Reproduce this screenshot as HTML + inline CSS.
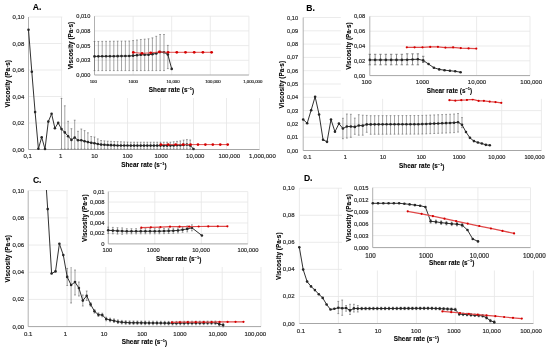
<!DOCTYPE html>
<html><head><meta charset="utf-8"><style>
html,body{margin:0;padding:0;background:#fff;}
body{width:550px;height:349px;overflow:hidden;}
svg{display:block;will-change:transform;font-family:"Liberation Sans", sans-serif;}
</style></head><body>
<svg width="550" height="349" viewBox="0 0 550 349">
<defs><filter id="blr" x="0" y="0" width="100%" height="100%" filterUnits="userSpaceOnUse"><feGaussianBlur stdDeviation="0.3"/></filter></defs>
<g filter="url(#blr)">
<rect width="550" height="349" fill="#fff"/>
<line x1="28.5" y1="123" x2="259.5" y2="123" stroke="#e6e6e6" stroke-width="0.8"/>
<line x1="28.5" y1="96.5" x2="259.5" y2="96.5" stroke="#e6e6e6" stroke-width="0.8"/>
<line x1="28.5" y1="70" x2="259.5" y2="70" stroke="#e6e6e6" stroke-width="0.8"/>
<line x1="28.5" y1="43.5" x2="259.5" y2="43.5" stroke="#e6e6e6" stroke-width="0.8"/>
<line x1="28.5" y1="17" x2="259.5" y2="17" stroke="#e6e6e6" stroke-width="0.8"/>
<line x1="61.5" y1="17" x2="61.5" y2="149.5" stroke="#e6e6e6" stroke-width="0.8"/>
<line x1="94.5" y1="17" x2="94.5" y2="149.5" stroke="#e6e6e6" stroke-width="0.8"/>
<line x1="127.5" y1="17" x2="127.5" y2="149.5" stroke="#e6e6e6" stroke-width="0.8"/>
<line x1="160.5" y1="17" x2="160.5" y2="149.5" stroke="#e6e6e6" stroke-width="0.8"/>
<line x1="193.5" y1="17" x2="193.5" y2="149.5" stroke="#e6e6e6" stroke-width="0.8"/>
<line x1="226.5" y1="17" x2="226.5" y2="149.5" stroke="#e6e6e6" stroke-width="0.8"/>
<line x1="259.5" y1="17" x2="259.5" y2="149.5" stroke="#e6e6e6" stroke-width="0.8"/>
<line x1="28.5" y1="17" x2="28.5" y2="149.5" stroke="#a8a8a8" stroke-width="0.9"/>
<line x1="28.5" y1="149.5" x2="259.5" y2="149.5" stroke="#a6a6a6" stroke-width="1"/>
<text x="24.3" y="149.5" font-size="6" text-anchor="end" font-weight="normal" fill="#2a2a2a" stroke="#2a2a2a" stroke-width="0.18" dominant-baseline="central">0,00</text>
<text x="24.3" y="123" font-size="6" text-anchor="end" font-weight="normal" fill="#2a2a2a" stroke="#2a2a2a" stroke-width="0.18" dominant-baseline="central">0,02</text>
<text x="24.3" y="96.5" font-size="6" text-anchor="end" font-weight="normal" fill="#2a2a2a" stroke="#2a2a2a" stroke-width="0.18" dominant-baseline="central">0,04</text>
<text x="24.3" y="70" font-size="6" text-anchor="end" font-weight="normal" fill="#2a2a2a" stroke="#2a2a2a" stroke-width="0.18" dominant-baseline="central">0,06</text>
<text x="24.3" y="43.5" font-size="6" text-anchor="end" font-weight="normal" fill="#2a2a2a" stroke="#2a2a2a" stroke-width="0.18" dominant-baseline="central">0,08</text>
<text x="24.3" y="17" font-size="6" text-anchor="end" font-weight="normal" fill="#2a2a2a" stroke="#2a2a2a" stroke-width="0.18" dominant-baseline="central">0,10</text>
<text x="27.6" y="155.8" font-size="6" text-anchor="middle" font-weight="normal" fill="#2a2a2a" stroke="#2a2a2a" stroke-width="0.18" dominant-baseline="central">0,1</text>
<text x="60.6" y="155.8" font-size="6" text-anchor="middle" font-weight="normal" fill="#2a2a2a" stroke="#2a2a2a" stroke-width="0.18" dominant-baseline="central">1</text>
<text x="94.6" y="155.8" font-size="6" text-anchor="middle" font-weight="normal" fill="#2a2a2a" stroke="#2a2a2a" stroke-width="0.18" dominant-baseline="central">10</text>
<text x="127.6" y="155.8" font-size="6" text-anchor="middle" font-weight="normal" fill="#2a2a2a" stroke="#2a2a2a" stroke-width="0.18" dominant-baseline="central">100</text>
<text x="161.2" y="155.8" font-size="6" text-anchor="middle" font-weight="normal" fill="#2a2a2a" stroke="#2a2a2a" stroke-width="0.18" dominant-baseline="central">1000</text>
<text x="195.3" y="155.8" font-size="6" text-anchor="middle" font-weight="normal" fill="#2a2a2a" stroke="#2a2a2a" stroke-width="0.18" dominant-baseline="central">10,000</text>
<text x="229.3" y="155.8" font-size="6" text-anchor="middle" font-weight="normal" fill="#2a2a2a" stroke="#2a2a2a" stroke-width="0.18" dominant-baseline="central">100,000</text>
<text x="262.4" y="155.8" font-size="6" text-anchor="middle" font-weight="normal" fill="#2a2a2a" stroke="#2a2a2a" stroke-width="0.18" dominant-baseline="central">1,000,000</text>
<text x="143.9" y="164.5" font-size="6.4" text-anchor="middle" font-weight="bold" fill="#000" stroke="#000" stroke-width="0.08" dominant-baseline="central">Shear rate (s<tspan font-size="3.97" dy="-1.6">&#8722;1</tspan><tspan dy="1.6">)</tspan></text>
<text x="7.8" y="83.8" font-size="6.4" text-anchor="middle" font-weight="bold" fill="#000" stroke="#000" stroke-width="0.08" dominant-baseline="central" transform="rotate(-90 7.8 83.8)">Viscosity (Pa&#183;s)</text>
<line x1="61.5" y1="98.4" x2="61.5" y2="149" stroke="#5a5a5a" stroke-width="0.55"/>
<line x1="60.6" y1="98.4" x2="62.4" y2="98.4" stroke="#5a5a5a" stroke-width="0.55"/>
<line x1="60.6" y1="149" x2="62.4" y2="149" stroke="#5a5a5a" stroke-width="0.55"/>
<line x1="64.8" y1="105.8" x2="64.8" y2="149" stroke="#5a5a5a" stroke-width="0.55"/>
<line x1="63.9" y1="105.8" x2="65.7" y2="105.8" stroke="#5a5a5a" stroke-width="0.55"/>
<line x1="63.9" y1="149" x2="65.7" y2="149" stroke="#5a5a5a" stroke-width="0.55"/>
<line x1="68.1" y1="121.3" x2="68.1" y2="149" stroke="#5a5a5a" stroke-width="0.55"/>
<line x1="67.2" y1="121.3" x2="69" y2="121.3" stroke="#5a5a5a" stroke-width="0.55"/>
<line x1="67.2" y1="149" x2="69" y2="149" stroke="#5a5a5a" stroke-width="0.55"/>
<line x1="71.4" y1="128.7" x2="71.4" y2="149" stroke="#5a5a5a" stroke-width="0.55"/>
<line x1="70.5" y1="128.7" x2="72.3" y2="128.7" stroke="#5a5a5a" stroke-width="0.55"/>
<line x1="70.5" y1="149" x2="72.3" y2="149" stroke="#5a5a5a" stroke-width="0.55"/>
<line x1="74.7" y1="120.2" x2="74.7" y2="149" stroke="#5a5a5a" stroke-width="0.55"/>
<line x1="73.8" y1="120.2" x2="75.6" y2="120.2" stroke="#5a5a5a" stroke-width="0.55"/>
<line x1="73.8" y1="149" x2="75.6" y2="149" stroke="#5a5a5a" stroke-width="0.55"/>
<line x1="78" y1="131.3" x2="78" y2="149" stroke="#5a5a5a" stroke-width="0.55"/>
<line x1="77.1" y1="131.3" x2="78.9" y2="131.3" stroke="#5a5a5a" stroke-width="0.55"/>
<line x1="77.1" y1="149" x2="78.9" y2="149" stroke="#5a5a5a" stroke-width="0.55"/>
<line x1="81.3" y1="129" x2="81.3" y2="149" stroke="#5a5a5a" stroke-width="0.55"/>
<line x1="80.4" y1="129" x2="82.2" y2="129" stroke="#5a5a5a" stroke-width="0.55"/>
<line x1="80.4" y1="149" x2="82.2" y2="149" stroke="#5a5a5a" stroke-width="0.55"/>
<line x1="84.6" y1="130.6" x2="84.6" y2="149" stroke="#5a5a5a" stroke-width="0.55"/>
<line x1="83.7" y1="130.6" x2="85.5" y2="130.6" stroke="#5a5a5a" stroke-width="0.55"/>
<line x1="83.7" y1="149" x2="85.5" y2="149" stroke="#5a5a5a" stroke-width="0.55"/>
<line x1="87.9" y1="132.8" x2="87.9" y2="149" stroke="#5a5a5a" stroke-width="0.55"/>
<line x1="87" y1="132.8" x2="88.8" y2="132.8" stroke="#5a5a5a" stroke-width="0.55"/>
<line x1="87" y1="149" x2="88.8" y2="149" stroke="#5a5a5a" stroke-width="0.55"/>
<line x1="91.2" y1="136.5" x2="91.2" y2="149" stroke="#5a5a5a" stroke-width="0.55"/>
<line x1="90.3" y1="136.5" x2="92.1" y2="136.5" stroke="#5a5a5a" stroke-width="0.55"/>
<line x1="90.3" y1="149" x2="92.1" y2="149" stroke="#5a5a5a" stroke-width="0.55"/>
<line x1="94.5" y1="137" x2="94.5" y2="149" stroke="#5a5a5a" stroke-width="0.55"/>
<line x1="93.6" y1="137" x2="95.4" y2="137" stroke="#5a5a5a" stroke-width="0.55"/>
<line x1="93.6" y1="149" x2="95.4" y2="149" stroke="#5a5a5a" stroke-width="0.55"/>
<line x1="97.8" y1="138.9" x2="97.8" y2="149" stroke="#5a5a5a" stroke-width="0.55"/>
<line x1="96.9" y1="138.9" x2="98.7" y2="138.9" stroke="#5a5a5a" stroke-width="0.55"/>
<line x1="96.9" y1="149" x2="98.7" y2="149" stroke="#5a5a5a" stroke-width="0.55"/>
<line x1="101.1" y1="140.51" x2="101.1" y2="149" stroke="#5a5a5a" stroke-width="0.55"/>
<line x1="100.2" y1="140.51" x2="102" y2="140.51" stroke="#5a5a5a" stroke-width="0.55"/>
<line x1="100.2" y1="149" x2="102" y2="149" stroke="#5a5a5a" stroke-width="0.55"/>
<line x1="104.4" y1="140.86" x2="104.4" y2="149" stroke="#5a5a5a" stroke-width="0.55"/>
<line x1="103.5" y1="140.86" x2="105.3" y2="140.86" stroke="#5a5a5a" stroke-width="0.55"/>
<line x1="103.5" y1="149" x2="105.3" y2="149" stroke="#5a5a5a" stroke-width="0.55"/>
<line x1="107.7" y1="141.2" x2="107.7" y2="149" stroke="#5a5a5a" stroke-width="0.55"/>
<line x1="106.8" y1="141.2" x2="108.6" y2="141.2" stroke="#5a5a5a" stroke-width="0.55"/>
<line x1="106.8" y1="149" x2="108.6" y2="149" stroke="#5a5a5a" stroke-width="0.55"/>
<line x1="111" y1="141.35" x2="111" y2="149" stroke="#5a5a5a" stroke-width="0.55"/>
<line x1="110.1" y1="141.35" x2="111.9" y2="141.35" stroke="#5a5a5a" stroke-width="0.55"/>
<line x1="110.1" y1="149" x2="111.9" y2="149" stroke="#5a5a5a" stroke-width="0.55"/>
<line x1="114.3" y1="141.49" x2="114.3" y2="149" stroke="#5a5a5a" stroke-width="0.55"/>
<line x1="113.4" y1="141.49" x2="115.2" y2="141.49" stroke="#5a5a5a" stroke-width="0.55"/>
<line x1="113.4" y1="149" x2="115.2" y2="149" stroke="#5a5a5a" stroke-width="0.55"/>
<line x1="117.6" y1="141.63" x2="117.6" y2="149" stroke="#5a5a5a" stroke-width="0.55"/>
<line x1="116.7" y1="141.63" x2="118.5" y2="141.63" stroke="#5a5a5a" stroke-width="0.55"/>
<line x1="116.7" y1="149" x2="118.5" y2="149" stroke="#5a5a5a" stroke-width="0.55"/>
<line x1="120.9" y1="141.77" x2="120.9" y2="149" stroke="#5a5a5a" stroke-width="0.55"/>
<line x1="120" y1="141.77" x2="121.8" y2="141.77" stroke="#5a5a5a" stroke-width="0.55"/>
<line x1="120" y1="149" x2="121.8" y2="149" stroke="#5a5a5a" stroke-width="0.55"/>
<line x1="124.2" y1="141.91" x2="124.2" y2="149" stroke="#5a5a5a" stroke-width="0.55"/>
<line x1="123.3" y1="141.91" x2="125.1" y2="141.91" stroke="#5a5a5a" stroke-width="0.55"/>
<line x1="123.3" y1="149" x2="125.1" y2="149" stroke="#5a5a5a" stroke-width="0.55"/>
<line x1="127.5" y1="142.05" x2="127.5" y2="149" stroke="#5a5a5a" stroke-width="0.55"/>
<line x1="126.6" y1="142.05" x2="128.4" y2="142.05" stroke="#5a5a5a" stroke-width="0.55"/>
<line x1="126.6" y1="149" x2="128.4" y2="149" stroke="#5a5a5a" stroke-width="0.55"/>
<line x1="130.8" y1="142.2" x2="130.8" y2="149" stroke="#5a5a5a" stroke-width="0.55"/>
<line x1="129.9" y1="142.2" x2="131.7" y2="142.2" stroke="#5a5a5a" stroke-width="0.55"/>
<line x1="129.9" y1="149" x2="131.7" y2="149" stroke="#5a5a5a" stroke-width="0.55"/>
<line x1="134.1" y1="142.2" x2="134.1" y2="149" stroke="#5a5a5a" stroke-width="0.55"/>
<line x1="133.2" y1="142.2" x2="135" y2="142.2" stroke="#5a5a5a" stroke-width="0.55"/>
<line x1="133.2" y1="149" x2="135" y2="149" stroke="#5a5a5a" stroke-width="0.55"/>
<line x1="137.4" y1="142.2" x2="137.4" y2="149" stroke="#5a5a5a" stroke-width="0.55"/>
<line x1="136.5" y1="142.2" x2="138.3" y2="142.2" stroke="#5a5a5a" stroke-width="0.55"/>
<line x1="136.5" y1="149" x2="138.3" y2="149" stroke="#5a5a5a" stroke-width="0.55"/>
<line x1="140.7" y1="142.2" x2="140.7" y2="149" stroke="#5a5a5a" stroke-width="0.55"/>
<line x1="139.8" y1="142.2" x2="141.6" y2="142.2" stroke="#5a5a5a" stroke-width="0.55"/>
<line x1="139.8" y1="149" x2="141.6" y2="149" stroke="#5a5a5a" stroke-width="0.55"/>
<line x1="144" y1="142.2" x2="144" y2="149" stroke="#5a5a5a" stroke-width="0.55"/>
<line x1="143.1" y1="142.2" x2="144.9" y2="142.2" stroke="#5a5a5a" stroke-width="0.55"/>
<line x1="143.1" y1="149" x2="144.9" y2="149" stroke="#5a5a5a" stroke-width="0.55"/>
<line x1="147.3" y1="142.2" x2="147.3" y2="149" stroke="#5a5a5a" stroke-width="0.55"/>
<line x1="146.4" y1="142.2" x2="148.2" y2="142.2" stroke="#5a5a5a" stroke-width="0.55"/>
<line x1="146.4" y1="149" x2="148.2" y2="149" stroke="#5a5a5a" stroke-width="0.55"/>
<line x1="150.6" y1="142.2" x2="150.6" y2="149" stroke="#5a5a5a" stroke-width="0.55"/>
<line x1="149.7" y1="142.2" x2="151.5" y2="142.2" stroke="#5a5a5a" stroke-width="0.55"/>
<line x1="149.7" y1="149" x2="151.5" y2="149" stroke="#5a5a5a" stroke-width="0.55"/>
<line x1="153.9" y1="142.2" x2="153.9" y2="149" stroke="#5a5a5a" stroke-width="0.55"/>
<line x1="153" y1="142.2" x2="154.8" y2="142.2" stroke="#5a5a5a" stroke-width="0.55"/>
<line x1="153" y1="149" x2="154.8" y2="149" stroke="#5a5a5a" stroke-width="0.55"/>
<line x1="157.2" y1="142.2" x2="157.2" y2="149" stroke="#5a5a5a" stroke-width="0.55"/>
<line x1="156.3" y1="142.2" x2="158.1" y2="142.2" stroke="#5a5a5a" stroke-width="0.55"/>
<line x1="156.3" y1="149" x2="158.1" y2="149" stroke="#5a5a5a" stroke-width="0.55"/>
<line x1="160.5" y1="142.2" x2="160.5" y2="149" stroke="#5a5a5a" stroke-width="0.55"/>
<line x1="159.6" y1="142.2" x2="161.4" y2="142.2" stroke="#5a5a5a" stroke-width="0.55"/>
<line x1="159.6" y1="149" x2="161.4" y2="149" stroke="#5a5a5a" stroke-width="0.55"/>
<line x1="163.8" y1="142.2" x2="163.8" y2="149" stroke="#5a5a5a" stroke-width="0.55"/>
<line x1="162.9" y1="142.2" x2="164.7" y2="142.2" stroke="#5a5a5a" stroke-width="0.55"/>
<line x1="162.9" y1="149" x2="164.7" y2="149" stroke="#5a5a5a" stroke-width="0.55"/>
<line x1="167.1" y1="142.2" x2="167.1" y2="149" stroke="#5a5a5a" stroke-width="0.55"/>
<line x1="166.2" y1="142.2" x2="168" y2="142.2" stroke="#5a5a5a" stroke-width="0.55"/>
<line x1="166.2" y1="149" x2="168" y2="149" stroke="#5a5a5a" stroke-width="0.55"/>
<line x1="170.4" y1="142.15" x2="170.4" y2="149" stroke="#5a5a5a" stroke-width="0.55"/>
<line x1="169.5" y1="142.15" x2="171.3" y2="142.15" stroke="#5a5a5a" stroke-width="0.55"/>
<line x1="169.5" y1="149" x2="171.3" y2="149" stroke="#5a5a5a" stroke-width="0.55"/>
<line x1="173.7" y1="141.76" x2="173.7" y2="149" stroke="#5a5a5a" stroke-width="0.55"/>
<line x1="172.8" y1="141.76" x2="174.6" y2="141.76" stroke="#5a5a5a" stroke-width="0.55"/>
<line x1="172.8" y1="149" x2="174.6" y2="149" stroke="#5a5a5a" stroke-width="0.55"/>
<line x1="177" y1="141.36" x2="177" y2="149" stroke="#5a5a5a" stroke-width="0.55"/>
<line x1="176.1" y1="141.36" x2="177.9" y2="141.36" stroke="#5a5a5a" stroke-width="0.55"/>
<line x1="176.1" y1="149" x2="177.9" y2="149" stroke="#5a5a5a" stroke-width="0.55"/>
<line x1="180.3" y1="140.93" x2="180.3" y2="149" stroke="#5a5a5a" stroke-width="0.55"/>
<line x1="179.4" y1="140.93" x2="181.2" y2="140.93" stroke="#5a5a5a" stroke-width="0.55"/>
<line x1="179.4" y1="149" x2="181.2" y2="149" stroke="#5a5a5a" stroke-width="0.55"/>
<line x1="183.6" y1="140.1" x2="183.6" y2="149" stroke="#5a5a5a" stroke-width="0.55"/>
<line x1="182.7" y1="140.1" x2="184.5" y2="140.1" stroke="#5a5a5a" stroke-width="0.55"/>
<line x1="182.7" y1="149" x2="184.5" y2="149" stroke="#5a5a5a" stroke-width="0.55"/>
<line x1="186.9" y1="139.61" x2="186.9" y2="149" stroke="#5a5a5a" stroke-width="0.55"/>
<line x1="186" y1="139.61" x2="187.8" y2="139.61" stroke="#5a5a5a" stroke-width="0.55"/>
<line x1="186" y1="149" x2="187.8" y2="149" stroke="#5a5a5a" stroke-width="0.55"/>
<line x1="190.2" y1="140" x2="190.2" y2="149" stroke="#5a5a5a" stroke-width="0.55"/>
<line x1="189.3" y1="140" x2="191.1" y2="140" stroke="#5a5a5a" stroke-width="0.55"/>
<line x1="189.3" y1="149" x2="191.1" y2="149" stroke="#5a5a5a" stroke-width="0.55"/>
<path d="M28.5 29.8 L31.8 71.7 L35.1 112.1 L38.4 148.8 L41.7 137.3 L45 149 L48.3 121.6 L51.6 113.8 L54.9 128.2 L58.2 122.9 L61.5 129.1 L64.8 132.4 L68.1 136.2 L71.4 139.9 L74.7 137.5 L78 140.3 L81.3 140.3 L84.6 141.2 L87.9 142.1 L91.2 142.8 L94.5 143.2 L97.8 144 L101.1 144.61 L104.4 144.81 L107.7 145.01 L111 145.17 L114.3 145.34 L117.6 145.5 L120.9 145.53 L124.2 145.55 L127.5 145.57 L130.8 145.6 L134.1 145.6 L137.4 145.6 L140.7 145.6 L144 145.6 L147.3 145.6 L150.6 145.6 L153.9 145.6 L157.2 145.6 L160.5 145.6 L163.8 145.6 L167.1 145.6 L170.4 145.58 L173.7 145.45 L177 145.32 L180.3 145.17 L183.6 144.89 L186.9 144.61 L190.2 145.39 L193.5 149" fill="none" stroke="#262626" stroke-width="0.95" stroke-linejoin="round"/>
<circle cx="28.5" cy="29.8" r="1.3" fill="#262626"/>
<circle cx="31.8" cy="71.7" r="1.3" fill="#262626"/>
<circle cx="35.1" cy="112.1" r="1.3" fill="#262626"/>
<circle cx="38.4" cy="148.8" r="1.3" fill="#262626"/>
<circle cx="41.7" cy="137.3" r="1.3" fill="#262626"/>
<circle cx="45" cy="149" r="1.3" fill="#262626"/>
<circle cx="48.3" cy="121.6" r="1.3" fill="#262626"/>
<circle cx="51.6" cy="113.8" r="1.3" fill="#262626"/>
<circle cx="54.9" cy="128.2" r="1.3" fill="#262626"/>
<circle cx="58.2" cy="122.9" r="1.3" fill="#262626"/>
<circle cx="61.5" cy="129.1" r="1.3" fill="#262626"/>
<circle cx="64.8" cy="132.4" r="1.3" fill="#262626"/>
<circle cx="68.1" cy="136.2" r="1.3" fill="#262626"/>
<circle cx="71.4" cy="139.9" r="1.3" fill="#262626"/>
<circle cx="74.7" cy="137.5" r="1.3" fill="#262626"/>
<circle cx="78" cy="140.3" r="1.3" fill="#262626"/>
<circle cx="81.3" cy="140.3" r="1.3" fill="#262626"/>
<circle cx="84.6" cy="141.2" r="1.3" fill="#262626"/>
<circle cx="87.9" cy="142.1" r="1.3" fill="#262626"/>
<circle cx="91.2" cy="142.8" r="1.3" fill="#262626"/>
<circle cx="94.5" cy="143.2" r="1.3" fill="#262626"/>
<circle cx="97.8" cy="144" r="1.3" fill="#262626"/>
<circle cx="101.1" cy="144.61" r="1.3" fill="#262626"/>
<circle cx="104.4" cy="144.81" r="1.3" fill="#262626"/>
<circle cx="107.7" cy="145.01" r="1.3" fill="#262626"/>
<circle cx="111" cy="145.17" r="1.3" fill="#262626"/>
<circle cx="114.3" cy="145.34" r="1.3" fill="#262626"/>
<circle cx="117.6" cy="145.5" r="1.3" fill="#262626"/>
<circle cx="120.9" cy="145.53" r="1.3" fill="#262626"/>
<circle cx="124.2" cy="145.55" r="1.3" fill="#262626"/>
<circle cx="127.5" cy="145.57" r="1.3" fill="#262626"/>
<circle cx="130.8" cy="145.6" r="1.3" fill="#262626"/>
<circle cx="134.1" cy="145.6" r="1.3" fill="#262626"/>
<circle cx="137.4" cy="145.6" r="1.3" fill="#262626"/>
<circle cx="140.7" cy="145.6" r="1.3" fill="#262626"/>
<circle cx="144" cy="145.6" r="1.3" fill="#262626"/>
<circle cx="147.3" cy="145.6" r="1.3" fill="#262626"/>
<circle cx="150.6" cy="145.6" r="1.3" fill="#262626"/>
<circle cx="153.9" cy="145.6" r="1.3" fill="#262626"/>
<circle cx="157.2" cy="145.6" r="1.3" fill="#262626"/>
<circle cx="160.5" cy="145.6" r="1.3" fill="#262626"/>
<circle cx="163.8" cy="145.6" r="1.3" fill="#262626"/>
<circle cx="167.1" cy="145.6" r="1.3" fill="#262626"/>
<circle cx="170.4" cy="145.58" r="1.3" fill="#262626"/>
<circle cx="173.7" cy="145.45" r="1.3" fill="#262626"/>
<circle cx="177" cy="145.32" r="1.3" fill="#262626"/>
<circle cx="180.3" cy="145.17" r="1.3" fill="#262626"/>
<circle cx="183.6" cy="144.89" r="1.3" fill="#262626"/>
<circle cx="186.9" cy="144.61" r="1.3" fill="#262626"/>
<circle cx="190.2" cy="145.39" r="1.3" fill="#262626"/>
<circle cx="193.5" cy="149" r="1.3" fill="#262626"/>
<path d="M160.8 144.6 L168.23 144.6 L175.67 144.6 L183.1 144.6 L190.53 144.6 L197.97 144.6 L205.4 144.6 L212.83 144.6 L220.27 144.6 L227.7 144.6" fill="none" stroke="#e04848" stroke-width="0.95" stroke-linejoin="round"/>
<circle cx="160.8" cy="144.6" r="1.35" fill="#d40000"/>
<circle cx="168.23" cy="144.6" r="1.35" fill="#d40000"/>
<circle cx="175.67" cy="144.6" r="1.35" fill="#d40000"/>
<circle cx="183.1" cy="144.6" r="1.35" fill="#d40000"/>
<circle cx="190.53" cy="144.6" r="1.35" fill="#d40000"/>
<circle cx="197.97" cy="144.6" r="1.35" fill="#d40000"/>
<circle cx="205.4" cy="144.6" r="1.35" fill="#d40000"/>
<circle cx="212.83" cy="144.6" r="1.35" fill="#d40000"/>
<circle cx="220.27" cy="144.6" r="1.35" fill="#d40000"/>
<circle cx="227.7" cy="144.6" r="1.35" fill="#d40000"/>
<rect x="62.3" y="0" width="213" height="98" fill="#fff"/>
<line x1="94.5" y1="60.3" x2="248.9" y2="60.3" stroke="#e6e6e6" stroke-width="0.8"/>
<line x1="94.5" y1="45.6" x2="248.9" y2="45.6" stroke="#e6e6e6" stroke-width="0.8"/>
<line x1="94.5" y1="30.9" x2="248.9" y2="30.9" stroke="#e6e6e6" stroke-width="0.8"/>
<line x1="94.5" y1="16.2" x2="248.9" y2="16.2" stroke="#e6e6e6" stroke-width="0.8"/>
<line x1="133.1" y1="16.2" x2="133.1" y2="75" stroke="#e6e6e6" stroke-width="0.8"/>
<line x1="171.7" y1="16.2" x2="171.7" y2="75" stroke="#e6e6e6" stroke-width="0.8"/>
<line x1="210.3" y1="16.2" x2="210.3" y2="75" stroke="#e6e6e6" stroke-width="0.8"/>
<line x1="248.9" y1="16.2" x2="248.9" y2="75" stroke="#e6e6e6" stroke-width="0.8"/>
<line x1="94.5" y1="16.2" x2="94.5" y2="75" stroke="#a8a8a8" stroke-width="0.9"/>
<line x1="94.5" y1="75" x2="248.9" y2="75" stroke="#a6a6a6" stroke-width="1"/>
<text x="90.3" y="75" font-size="5.6" text-anchor="end" font-weight="normal" fill="#2a2a2a" stroke="#2a2a2a" stroke-width="0.18" dominant-baseline="central">0,000</text>
<text x="90.3" y="60.3" font-size="5.6" text-anchor="end" font-weight="normal" fill="#2a2a2a" stroke="#2a2a2a" stroke-width="0.18" dominant-baseline="central">0,003</text>
<text x="90.3" y="45.6" font-size="5.6" text-anchor="end" font-weight="normal" fill="#2a2a2a" stroke="#2a2a2a" stroke-width="0.18" dominant-baseline="central">0,005</text>
<text x="90.3" y="30.9" font-size="5.6" text-anchor="end" font-weight="normal" fill="#2a2a2a" stroke="#2a2a2a" stroke-width="0.18" dominant-baseline="central">0,008</text>
<text x="90.3" y="16.2" font-size="5.6" text-anchor="end" font-weight="normal" fill="#2a2a2a" stroke="#2a2a2a" stroke-width="0.18" dominant-baseline="central">0,010</text>
<text x="93.3" y="81.6" font-size="4.3" text-anchor="middle" font-weight="normal" fill="#2a2a2a" stroke="#2a2a2a" stroke-width="0.18" dominant-baseline="central">100</text>
<text x="133.2" y="81.6" font-size="4.3" text-anchor="middle" font-weight="normal" fill="#2a2a2a" stroke="#2a2a2a" stroke-width="0.18" dominant-baseline="central">1000</text>
<text x="173" y="81.6" font-size="4.3" text-anchor="middle" font-weight="normal" fill="#2a2a2a" stroke="#2a2a2a" stroke-width="0.18" dominant-baseline="central">10,000</text>
<text x="213" y="81.6" font-size="4.3" text-anchor="middle" font-weight="normal" fill="#2a2a2a" stroke="#2a2a2a" stroke-width="0.18" dominant-baseline="central">100,000</text>
<text x="252.8" y="81.6" font-size="4.3" text-anchor="middle" font-weight="normal" fill="#2a2a2a" stroke="#2a2a2a" stroke-width="0.18" dominant-baseline="central">1,000,000</text>
<text x="171.5" y="89.7" font-size="6.4" text-anchor="middle" font-weight="bold" fill="#000" stroke="#000" stroke-width="0.08" dominant-baseline="central">Shear rate (s<tspan font-size="3.97" dy="-1.6">&#8722;1</tspan><tspan dy="1.6">)</tspan></text>
<text x="70.7" y="45.6" font-size="6.4" text-anchor="middle" font-weight="bold" fill="#000" stroke="#000" stroke-width="0.08" dominant-baseline="central" transform="rotate(-90 70.7 45.6)">Viscosity (Pa&#183;s)</text>
<line x1="94.5" y1="41.5" x2="94.5" y2="70.6" stroke="#5a5a5a" stroke-width="0.55"/>
<line x1="93.6" y1="41.5" x2="95.4" y2="41.5" stroke="#5a5a5a" stroke-width="0.55"/>
<line x1="93.6" y1="70.6" x2="95.4" y2="70.6" stroke="#5a5a5a" stroke-width="0.55"/>
<line x1="98.36" y1="41.45" x2="98.36" y2="70.6" stroke="#5a5a5a" stroke-width="0.55"/>
<line x1="97.46" y1="41.45" x2="99.26" y2="41.45" stroke="#5a5a5a" stroke-width="0.55"/>
<line x1="97.46" y1="70.6" x2="99.26" y2="70.6" stroke="#5a5a5a" stroke-width="0.55"/>
<line x1="102.22" y1="41.39" x2="102.22" y2="70.6" stroke="#5a5a5a" stroke-width="0.55"/>
<line x1="101.32" y1="41.39" x2="103.12" y2="41.39" stroke="#5a5a5a" stroke-width="0.55"/>
<line x1="101.32" y1="70.6" x2="103.12" y2="70.6" stroke="#5a5a5a" stroke-width="0.55"/>
<line x1="106.08" y1="41.34" x2="106.08" y2="70.6" stroke="#5a5a5a" stroke-width="0.55"/>
<line x1="105.18" y1="41.34" x2="106.98" y2="41.34" stroke="#5a5a5a" stroke-width="0.55"/>
<line x1="105.18" y1="70.6" x2="106.98" y2="70.6" stroke="#5a5a5a" stroke-width="0.55"/>
<line x1="109.94" y1="41.28" x2="109.94" y2="70.6" stroke="#5a5a5a" stroke-width="0.55"/>
<line x1="109.04" y1="41.28" x2="110.84" y2="41.28" stroke="#5a5a5a" stroke-width="0.55"/>
<line x1="109.04" y1="70.6" x2="110.84" y2="70.6" stroke="#5a5a5a" stroke-width="0.55"/>
<line x1="113.8" y1="41.23" x2="113.8" y2="70.6" stroke="#5a5a5a" stroke-width="0.55"/>
<line x1="112.9" y1="41.23" x2="114.7" y2="41.23" stroke="#5a5a5a" stroke-width="0.55"/>
<line x1="112.9" y1="70.6" x2="114.7" y2="70.6" stroke="#5a5a5a" stroke-width="0.55"/>
<line x1="117.66" y1="41.17" x2="117.66" y2="70.6" stroke="#5a5a5a" stroke-width="0.55"/>
<line x1="116.76" y1="41.17" x2="118.56" y2="41.17" stroke="#5a5a5a" stroke-width="0.55"/>
<line x1="116.76" y1="70.6" x2="118.56" y2="70.6" stroke="#5a5a5a" stroke-width="0.55"/>
<line x1="121.52" y1="41.12" x2="121.52" y2="70.6" stroke="#5a5a5a" stroke-width="0.55"/>
<line x1="120.62" y1="41.12" x2="122.42" y2="41.12" stroke="#5a5a5a" stroke-width="0.55"/>
<line x1="120.62" y1="70.6" x2="122.42" y2="70.6" stroke="#5a5a5a" stroke-width="0.55"/>
<line x1="125.38" y1="41.07" x2="125.38" y2="70.6" stroke="#5a5a5a" stroke-width="0.55"/>
<line x1="124.48" y1="41.07" x2="126.28" y2="41.07" stroke="#5a5a5a" stroke-width="0.55"/>
<line x1="124.48" y1="70.6" x2="126.28" y2="70.6" stroke="#5a5a5a" stroke-width="0.55"/>
<line x1="129.24" y1="41.01" x2="129.24" y2="70.6" stroke="#5a5a5a" stroke-width="0.55"/>
<line x1="128.34" y1="41.01" x2="130.14" y2="41.01" stroke="#5a5a5a" stroke-width="0.55"/>
<line x1="128.34" y1="70.6" x2="130.14" y2="70.6" stroke="#5a5a5a" stroke-width="0.55"/>
<line x1="133.1" y1="40.57" x2="133.1" y2="70.6" stroke="#5a5a5a" stroke-width="0.55"/>
<line x1="132.2" y1="40.57" x2="134" y2="40.57" stroke="#5a5a5a" stroke-width="0.55"/>
<line x1="132.2" y1="70.6" x2="134" y2="70.6" stroke="#5a5a5a" stroke-width="0.55"/>
<line x1="136.96" y1="40.02" x2="136.96" y2="70.6" stroke="#5a5a5a" stroke-width="0.55"/>
<line x1="136.06" y1="40.02" x2="137.86" y2="40.02" stroke="#5a5a5a" stroke-width="0.55"/>
<line x1="136.06" y1="70.6" x2="137.86" y2="70.6" stroke="#5a5a5a" stroke-width="0.55"/>
<line x1="140.82" y1="39.49" x2="140.82" y2="70.6" stroke="#5a5a5a" stroke-width="0.55"/>
<line x1="139.92" y1="39.49" x2="141.72" y2="39.49" stroke="#5a5a5a" stroke-width="0.55"/>
<line x1="139.92" y1="70.6" x2="141.72" y2="70.6" stroke="#5a5a5a" stroke-width="0.55"/>
<line x1="144.68" y1="39.15" x2="144.68" y2="70.6" stroke="#5a5a5a" stroke-width="0.55"/>
<line x1="143.78" y1="39.15" x2="145.58" y2="39.15" stroke="#5a5a5a" stroke-width="0.55"/>
<line x1="143.78" y1="70.6" x2="145.58" y2="70.6" stroke="#5a5a5a" stroke-width="0.55"/>
<line x1="148.54" y1="38.81" x2="148.54" y2="70.6" stroke="#5a5a5a" stroke-width="0.55"/>
<line x1="147.64" y1="38.81" x2="149.44" y2="38.81" stroke="#5a5a5a" stroke-width="0.55"/>
<line x1="147.64" y1="70.6" x2="149.44" y2="70.6" stroke="#5a5a5a" stroke-width="0.55"/>
<line x1="152.4" y1="37.87" x2="152.4" y2="70.6" stroke="#5a5a5a" stroke-width="0.55"/>
<line x1="151.5" y1="37.87" x2="153.3" y2="37.87" stroke="#5a5a5a" stroke-width="0.55"/>
<line x1="151.5" y1="70.6" x2="153.3" y2="70.6" stroke="#5a5a5a" stroke-width="0.55"/>
<line x1="156.26" y1="36.32" x2="156.26" y2="70.6" stroke="#5a5a5a" stroke-width="0.55"/>
<line x1="155.36" y1="36.32" x2="157.16" y2="36.32" stroke="#5a5a5a" stroke-width="0.55"/>
<line x1="155.36" y1="70.6" x2="157.16" y2="70.6" stroke="#5a5a5a" stroke-width="0.55"/>
<line x1="160.12" y1="34.5" x2="160.12" y2="70.6" stroke="#5a5a5a" stroke-width="0.55"/>
<line x1="159.22" y1="34.5" x2="161.02" y2="34.5" stroke="#5a5a5a" stroke-width="0.55"/>
<line x1="159.22" y1="70.6" x2="161.02" y2="70.6" stroke="#5a5a5a" stroke-width="0.55"/>
<line x1="163.98" y1="34.5" x2="163.98" y2="70.6" stroke="#5a5a5a" stroke-width="0.55"/>
<line x1="163.08" y1="34.5" x2="164.88" y2="34.5" stroke="#5a5a5a" stroke-width="0.55"/>
<line x1="163.08" y1="70.6" x2="164.88" y2="70.6" stroke="#5a5a5a" stroke-width="0.55"/>
<line x1="167.84" y1="45.4" x2="167.84" y2="68.6" stroke="#5a5a5a" stroke-width="0.55"/>
<line x1="166.94" y1="45.4" x2="168.74" y2="45.4" stroke="#5a5a5a" stroke-width="0.55"/>
<line x1="166.94" y1="68.6" x2="168.74" y2="68.6" stroke="#5a5a5a" stroke-width="0.55"/>
<path d="M94.5 56.4 L98.36 56.36 L102.22 56.31 L106.08 56.27 L109.94 56.23 L113.8 56.18 L117.66 56.14 L121.52 56.1 L125.38 56.05 L129.24 56.01 L133.1 55.65 L136.96 55.22 L140.82 54.8 L144.68 54.8 L148.54 54.8 L152.4 54.15 L156.26 53.41 L160.12 52 L163.98 52.3 L167.84 54.47 L171.7 68.92" fill="none" stroke="#262626" stroke-width="0.95" stroke-linejoin="round"/>
<circle cx="94.5" cy="56.4" r="1.3" fill="#262626"/>
<circle cx="98.36" cy="56.36" r="1.3" fill="#262626"/>
<circle cx="102.22" cy="56.31" r="1.3" fill="#262626"/>
<circle cx="106.08" cy="56.27" r="1.3" fill="#262626"/>
<circle cx="109.94" cy="56.23" r="1.3" fill="#262626"/>
<circle cx="113.8" cy="56.18" r="1.3" fill="#262626"/>
<circle cx="117.66" cy="56.14" r="1.3" fill="#262626"/>
<circle cx="121.52" cy="56.1" r="1.3" fill="#262626"/>
<circle cx="125.38" cy="56.05" r="1.3" fill="#262626"/>
<circle cx="129.24" cy="56.01" r="1.3" fill="#262626"/>
<circle cx="133.1" cy="55.65" r="1.3" fill="#262626"/>
<circle cx="136.96" cy="55.22" r="1.3" fill="#262626"/>
<circle cx="140.82" cy="54.8" r="1.3" fill="#262626"/>
<circle cx="144.68" cy="54.8" r="1.3" fill="#262626"/>
<circle cx="148.54" cy="54.8" r="1.3" fill="#262626"/>
<circle cx="152.4" cy="54.15" r="1.3" fill="#262626"/>
<circle cx="156.26" cy="53.41" r="1.3" fill="#262626"/>
<circle cx="160.12" cy="52" r="1.3" fill="#262626"/>
<circle cx="163.98" cy="52.3" r="1.3" fill="#262626"/>
<circle cx="167.84" cy="54.47" r="1.3" fill="#262626"/>
<circle cx="171.7" cy="68.92" r="1.3" fill="#262626"/>
<path d="M133.3 52.4 L142 53.37 L150.7 52.84 L159.4 51.92 L168.1 52.3 L176.8 52.3 L185.5 52.3 L194.2 52.3 L202.9 52.3 L211.6 52.3" fill="none" stroke="#e04848" stroke-width="0.95" stroke-linejoin="round"/>
<circle cx="133.3" cy="52.4" r="1.4" fill="#d40000"/>
<circle cx="142" cy="53.37" r="1.4" fill="#d40000"/>
<circle cx="150.7" cy="52.84" r="1.4" fill="#d40000"/>
<circle cx="159.4" cy="51.92" r="1.4" fill="#d40000"/>
<circle cx="168.1" cy="52.3" r="1.4" fill="#d40000"/>
<circle cx="176.8" cy="52.3" r="1.4" fill="#d40000"/>
<circle cx="185.5" cy="52.3" r="1.4" fill="#d40000"/>
<circle cx="194.2" cy="52.3" r="1.4" fill="#d40000"/>
<circle cx="202.9" cy="52.3" r="1.4" fill="#d40000"/>
<circle cx="211.6" cy="52.3" r="1.4" fill="#d40000"/>
<text x="37" y="7.4" font-size="8.6" text-anchor="middle" font-weight="bold" fill="#000" stroke="#000" stroke-width="0.08" dominant-baseline="central">A.</text>
<line x1="303.2" y1="137.2" x2="541.4" y2="137.2" stroke="#e6e6e6" stroke-width="0.8"/>
<line x1="303.2" y1="123.9" x2="541.4" y2="123.9" stroke="#e6e6e6" stroke-width="0.8"/>
<line x1="303.2" y1="110.6" x2="541.4" y2="110.6" stroke="#e6e6e6" stroke-width="0.8"/>
<line x1="303.2" y1="97.3" x2="541.4" y2="97.3" stroke="#e6e6e6" stroke-width="0.8"/>
<line x1="303.2" y1="84" x2="541.4" y2="84" stroke="#e6e6e6" stroke-width="0.8"/>
<line x1="303.2" y1="70.7" x2="541.4" y2="70.7" stroke="#e6e6e6" stroke-width="0.8"/>
<line x1="303.2" y1="57.4" x2="541.4" y2="57.4" stroke="#e6e6e6" stroke-width="0.8"/>
<line x1="303.2" y1="44.1" x2="541.4" y2="44.1" stroke="#e6e6e6" stroke-width="0.8"/>
<line x1="303.2" y1="30.8" x2="541.4" y2="30.8" stroke="#e6e6e6" stroke-width="0.8"/>
<line x1="303.2" y1="17.5" x2="541.4" y2="17.5" stroke="#e6e6e6" stroke-width="0.8"/>
<line x1="342.9" y1="17.5" x2="342.9" y2="150.5" stroke="#e6e6e6" stroke-width="0.8"/>
<line x1="382.6" y1="17.5" x2="382.6" y2="150.5" stroke="#e6e6e6" stroke-width="0.8"/>
<line x1="422.3" y1="17.5" x2="422.3" y2="150.5" stroke="#e6e6e6" stroke-width="0.8"/>
<line x1="462" y1="17.5" x2="462" y2="150.5" stroke="#e6e6e6" stroke-width="0.8"/>
<line x1="501.7" y1="17.5" x2="501.7" y2="150.5" stroke="#e6e6e6" stroke-width="0.8"/>
<line x1="541.4" y1="17.5" x2="541.4" y2="150.5" stroke="#e6e6e6" stroke-width="0.8"/>
<line x1="303.2" y1="17.5" x2="303.2" y2="150.5" stroke="#a8a8a8" stroke-width="0.9"/>
<line x1="303.2" y1="150.5" x2="541.4" y2="150.5" stroke="#a6a6a6" stroke-width="1"/>
<text x="298" y="150.5" font-size="5.6" text-anchor="end" font-weight="normal" fill="#2a2a2a" stroke="#2a2a2a" stroke-width="0.18" dominant-baseline="central">0,00</text>
<text x="298" y="137.2" font-size="5.6" text-anchor="end" font-weight="normal" fill="#2a2a2a" stroke="#2a2a2a" stroke-width="0.18" dominant-baseline="central">0,01</text>
<text x="298" y="123.9" font-size="5.6" text-anchor="end" font-weight="normal" fill="#2a2a2a" stroke="#2a2a2a" stroke-width="0.18" dominant-baseline="central">0,02</text>
<text x="298" y="110.6" font-size="5.6" text-anchor="end" font-weight="normal" fill="#2a2a2a" stroke="#2a2a2a" stroke-width="0.18" dominant-baseline="central">0,03</text>
<text x="298" y="97.3" font-size="5.6" text-anchor="end" font-weight="normal" fill="#2a2a2a" stroke="#2a2a2a" stroke-width="0.18" dominant-baseline="central">0,04</text>
<text x="298" y="84" font-size="5.6" text-anchor="end" font-weight="normal" fill="#2a2a2a" stroke="#2a2a2a" stroke-width="0.18" dominant-baseline="central">0,05</text>
<text x="298" y="70.7" font-size="5.6" text-anchor="end" font-weight="normal" fill="#2a2a2a" stroke="#2a2a2a" stroke-width="0.18" dominant-baseline="central">0,06</text>
<text x="298" y="57.4" font-size="5.6" text-anchor="end" font-weight="normal" fill="#2a2a2a" stroke="#2a2a2a" stroke-width="0.18" dominant-baseline="central">0,07</text>
<text x="298" y="44.1" font-size="5.6" text-anchor="end" font-weight="normal" fill="#2a2a2a" stroke="#2a2a2a" stroke-width="0.18" dominant-baseline="central">0,08</text>
<text x="298" y="30.8" font-size="5.6" text-anchor="end" font-weight="normal" fill="#2a2a2a" stroke="#2a2a2a" stroke-width="0.18" dominant-baseline="central">0,09</text>
<text x="298" y="17.5" font-size="5.6" text-anchor="end" font-weight="normal" fill="#2a2a2a" stroke="#2a2a2a" stroke-width="0.18" dominant-baseline="central">0,10</text>
<text x="307.4" y="157.3" font-size="5.6" text-anchor="middle" font-weight="normal" fill="#2a2a2a" stroke="#2a2a2a" stroke-width="0.18" dominant-baseline="central">0.1</text>
<text x="345.3" y="157.3" font-size="5.6" text-anchor="middle" font-weight="normal" fill="#2a2a2a" stroke="#2a2a2a" stroke-width="0.18" dominant-baseline="central">1</text>
<text x="383" y="157.3" font-size="5.6" text-anchor="middle" font-weight="normal" fill="#2a2a2a" stroke="#2a2a2a" stroke-width="0.18" dominant-baseline="central">10</text>
<text x="421.3" y="157.3" font-size="5.6" text-anchor="middle" font-weight="normal" fill="#2a2a2a" stroke="#2a2a2a" stroke-width="0.18" dominant-baseline="central">100</text>
<text x="459.1" y="157.3" font-size="5.6" text-anchor="middle" font-weight="normal" fill="#2a2a2a" stroke="#2a2a2a" stroke-width="0.18" dominant-baseline="central">1000</text>
<text x="496.9" y="157.3" font-size="5.6" text-anchor="middle" font-weight="normal" fill="#2a2a2a" stroke="#2a2a2a" stroke-width="0.18" dominant-baseline="central">10,000</text>
<text x="534.5" y="157.3" font-size="5.6" text-anchor="middle" font-weight="normal" fill="#2a2a2a" stroke="#2a2a2a" stroke-width="0.18" dominant-baseline="central">100,000</text>
<text x="421.8" y="165.6" font-size="6.4" text-anchor="middle" font-weight="bold" fill="#000" stroke="#000" stroke-width="0.08" dominant-baseline="central">Shear rate (s<tspan font-size="3.97" dy="-1.6">&#8722;1</tspan><tspan dy="1.6">)</tspan></text>
<text x="281.9" y="84.7" font-size="6.4" text-anchor="middle" font-weight="bold" fill="#000" stroke="#000" stroke-width="0.08" dominant-baseline="central" transform="rotate(-90 281.9 84.7)">Viscosity (Pa&#183;s)</text>
<line x1="342.9" y1="118.3" x2="342.9" y2="138.7" stroke="#5a5a5a" stroke-width="0.55"/>
<line x1="342" y1="118.3" x2="343.8" y2="118.3" stroke="#5a5a5a" stroke-width="0.55"/>
<line x1="342" y1="138.7" x2="343.8" y2="138.7" stroke="#5a5a5a" stroke-width="0.55"/>
<line x1="346.87" y1="114" x2="346.87" y2="138.1" stroke="#5a5a5a" stroke-width="0.55"/>
<line x1="345.97" y1="114" x2="347.77" y2="114" stroke="#5a5a5a" stroke-width="0.55"/>
<line x1="345.97" y1="138.1" x2="347.77" y2="138.1" stroke="#5a5a5a" stroke-width="0.55"/>
<line x1="350.84" y1="114.3" x2="350.84" y2="137.3" stroke="#5a5a5a" stroke-width="0.55"/>
<line x1="349.94" y1="114.3" x2="351.74" y2="114.3" stroke="#5a5a5a" stroke-width="0.55"/>
<line x1="349.94" y1="137.3" x2="351.74" y2="137.3" stroke="#5a5a5a" stroke-width="0.55"/>
<line x1="354.81" y1="118.1" x2="354.81" y2="134.3" stroke="#5a5a5a" stroke-width="0.55"/>
<line x1="353.91" y1="118.1" x2="355.71" y2="118.1" stroke="#5a5a5a" stroke-width="0.55"/>
<line x1="353.91" y1="134.3" x2="355.71" y2="134.3" stroke="#5a5a5a" stroke-width="0.55"/>
<line x1="358.78" y1="114.7" x2="358.78" y2="135.2" stroke="#5a5a5a" stroke-width="0.55"/>
<line x1="357.88" y1="114.7" x2="359.68" y2="114.7" stroke="#5a5a5a" stroke-width="0.55"/>
<line x1="357.88" y1="135.2" x2="359.68" y2="135.2" stroke="#5a5a5a" stroke-width="0.55"/>
<line x1="362.75" y1="115.2" x2="362.75" y2="135.2" stroke="#5a5a5a" stroke-width="0.55"/>
<line x1="361.85" y1="115.2" x2="363.65" y2="115.2" stroke="#5a5a5a" stroke-width="0.55"/>
<line x1="361.85" y1="135.2" x2="363.65" y2="135.2" stroke="#5a5a5a" stroke-width="0.55"/>
<line x1="366.72" y1="115.4" x2="366.72" y2="132.3" stroke="#5a5a5a" stroke-width="0.55"/>
<line x1="365.82" y1="115.4" x2="367.62" y2="115.4" stroke="#5a5a5a" stroke-width="0.55"/>
<line x1="365.82" y1="132.3" x2="367.62" y2="132.3" stroke="#5a5a5a" stroke-width="0.55"/>
<line x1="370.69" y1="115.68" x2="370.69" y2="134.28" stroke="#5a5a5a" stroke-width="0.55"/>
<line x1="369.79" y1="115.68" x2="371.59" y2="115.68" stroke="#5a5a5a" stroke-width="0.55"/>
<line x1="369.79" y1="134.28" x2="371.59" y2="134.28" stroke="#5a5a5a" stroke-width="0.55"/>
<line x1="374.66" y1="115.67" x2="374.66" y2="134.27" stroke="#5a5a5a" stroke-width="0.55"/>
<line x1="373.76" y1="115.67" x2="375.56" y2="115.67" stroke="#5a5a5a" stroke-width="0.55"/>
<line x1="373.76" y1="134.27" x2="375.56" y2="134.27" stroke="#5a5a5a" stroke-width="0.55"/>
<line x1="378.63" y1="115.65" x2="378.63" y2="134.25" stroke="#5a5a5a" stroke-width="0.55"/>
<line x1="377.73" y1="115.65" x2="379.53" y2="115.65" stroke="#5a5a5a" stroke-width="0.55"/>
<line x1="377.73" y1="134.25" x2="379.53" y2="134.25" stroke="#5a5a5a" stroke-width="0.55"/>
<line x1="382.6" y1="115.64" x2="382.6" y2="134.24" stroke="#5a5a5a" stroke-width="0.55"/>
<line x1="381.7" y1="115.64" x2="383.5" y2="115.64" stroke="#5a5a5a" stroke-width="0.55"/>
<line x1="381.7" y1="134.24" x2="383.5" y2="134.24" stroke="#5a5a5a" stroke-width="0.55"/>
<line x1="386.57" y1="115.62" x2="386.57" y2="134.22" stroke="#5a5a5a" stroke-width="0.55"/>
<line x1="385.67" y1="115.62" x2="387.47" y2="115.62" stroke="#5a5a5a" stroke-width="0.55"/>
<line x1="385.67" y1="134.22" x2="387.47" y2="134.22" stroke="#5a5a5a" stroke-width="0.55"/>
<line x1="390.54" y1="115.61" x2="390.54" y2="134.21" stroke="#5a5a5a" stroke-width="0.55"/>
<line x1="389.64" y1="115.61" x2="391.44" y2="115.61" stroke="#5a5a5a" stroke-width="0.55"/>
<line x1="389.64" y1="134.21" x2="391.44" y2="134.21" stroke="#5a5a5a" stroke-width="0.55"/>
<line x1="394.51" y1="115.6" x2="394.51" y2="134.2" stroke="#5a5a5a" stroke-width="0.55"/>
<line x1="393.61" y1="115.6" x2="395.41" y2="115.6" stroke="#5a5a5a" stroke-width="0.55"/>
<line x1="393.61" y1="134.2" x2="395.41" y2="134.2" stroke="#5a5a5a" stroke-width="0.55"/>
<line x1="398.48" y1="115.58" x2="398.48" y2="134.18" stroke="#5a5a5a" stroke-width="0.55"/>
<line x1="397.58" y1="115.58" x2="399.38" y2="115.58" stroke="#5a5a5a" stroke-width="0.55"/>
<line x1="397.58" y1="134.18" x2="399.38" y2="134.18" stroke="#5a5a5a" stroke-width="0.55"/>
<line x1="402.45" y1="115.57" x2="402.45" y2="134.17" stroke="#5a5a5a" stroke-width="0.55"/>
<line x1="401.55" y1="115.57" x2="403.35" y2="115.57" stroke="#5a5a5a" stroke-width="0.55"/>
<line x1="401.55" y1="134.17" x2="403.35" y2="134.17" stroke="#5a5a5a" stroke-width="0.55"/>
<line x1="406.42" y1="115.55" x2="406.42" y2="134.15" stroke="#5a5a5a" stroke-width="0.55"/>
<line x1="405.52" y1="115.55" x2="407.32" y2="115.55" stroke="#5a5a5a" stroke-width="0.55"/>
<line x1="405.52" y1="134.15" x2="407.32" y2="134.15" stroke="#5a5a5a" stroke-width="0.55"/>
<line x1="410.39" y1="115.54" x2="410.39" y2="134.14" stroke="#5a5a5a" stroke-width="0.55"/>
<line x1="409.49" y1="115.54" x2="411.29" y2="115.54" stroke="#5a5a5a" stroke-width="0.55"/>
<line x1="409.49" y1="134.14" x2="411.29" y2="134.14" stroke="#5a5a5a" stroke-width="0.55"/>
<line x1="414.36" y1="115.52" x2="414.36" y2="134.12" stroke="#5a5a5a" stroke-width="0.55"/>
<line x1="413.46" y1="115.52" x2="415.26" y2="115.52" stroke="#5a5a5a" stroke-width="0.55"/>
<line x1="413.46" y1="134.12" x2="415.26" y2="134.12" stroke="#5a5a5a" stroke-width="0.55"/>
<line x1="418.33" y1="115.51" x2="418.33" y2="134.11" stroke="#5a5a5a" stroke-width="0.55"/>
<line x1="417.43" y1="115.51" x2="419.23" y2="115.51" stroke="#5a5a5a" stroke-width="0.55"/>
<line x1="417.43" y1="134.11" x2="419.23" y2="134.11" stroke="#5a5a5a" stroke-width="0.55"/>
<line x1="422.3" y1="115.4" x2="422.3" y2="134" stroke="#5a5a5a" stroke-width="0.55"/>
<line x1="421.4" y1="115.4" x2="423.2" y2="115.4" stroke="#5a5a5a" stroke-width="0.55"/>
<line x1="421.4" y1="134" x2="423.2" y2="134" stroke="#5a5a5a" stroke-width="0.55"/>
<line x1="426.27" y1="115.24" x2="426.27" y2="133.84" stroke="#5a5a5a" stroke-width="0.55"/>
<line x1="425.37" y1="115.24" x2="427.17" y2="115.24" stroke="#5a5a5a" stroke-width="0.55"/>
<line x1="425.37" y1="133.84" x2="427.17" y2="133.84" stroke="#5a5a5a" stroke-width="0.55"/>
<line x1="430.24" y1="115.07" x2="430.24" y2="133.67" stroke="#5a5a5a" stroke-width="0.55"/>
<line x1="429.34" y1="115.07" x2="431.14" y2="115.07" stroke="#5a5a5a" stroke-width="0.55"/>
<line x1="429.34" y1="133.67" x2="431.14" y2="133.67" stroke="#5a5a5a" stroke-width="0.55"/>
<line x1="434.21" y1="114.91" x2="434.21" y2="133.51" stroke="#5a5a5a" stroke-width="0.55"/>
<line x1="433.31" y1="114.91" x2="435.11" y2="114.91" stroke="#5a5a5a" stroke-width="0.55"/>
<line x1="433.31" y1="133.51" x2="435.11" y2="133.51" stroke="#5a5a5a" stroke-width="0.55"/>
<line x1="438.18" y1="114.74" x2="438.18" y2="133.34" stroke="#5a5a5a" stroke-width="0.55"/>
<line x1="437.28" y1="114.74" x2="439.08" y2="114.74" stroke="#5a5a5a" stroke-width="0.55"/>
<line x1="437.28" y1="133.34" x2="439.08" y2="133.34" stroke="#5a5a5a" stroke-width="0.55"/>
<line x1="442.15" y1="114.57" x2="442.15" y2="133.17" stroke="#5a5a5a" stroke-width="0.55"/>
<line x1="441.25" y1="114.57" x2="443.05" y2="114.57" stroke="#5a5a5a" stroke-width="0.55"/>
<line x1="441.25" y1="133.17" x2="443.05" y2="133.17" stroke="#5a5a5a" stroke-width="0.55"/>
<line x1="446.12" y1="114.41" x2="446.12" y2="133.01" stroke="#5a5a5a" stroke-width="0.55"/>
<line x1="445.22" y1="114.41" x2="447.02" y2="114.41" stroke="#5a5a5a" stroke-width="0.55"/>
<line x1="445.22" y1="133.01" x2="447.02" y2="133.01" stroke="#5a5a5a" stroke-width="0.55"/>
<line x1="450.09" y1="114.24" x2="450.09" y2="132.84" stroke="#5a5a5a" stroke-width="0.55"/>
<line x1="449.19" y1="114.24" x2="450.99" y2="114.24" stroke="#5a5a5a" stroke-width="0.55"/>
<line x1="449.19" y1="132.84" x2="450.99" y2="132.84" stroke="#5a5a5a" stroke-width="0.55"/>
<line x1="454.06" y1="114.01" x2="454.06" y2="132.61" stroke="#5a5a5a" stroke-width="0.55"/>
<line x1="453.16" y1="114.01" x2="454.96" y2="114.01" stroke="#5a5a5a" stroke-width="0.55"/>
<line x1="453.16" y1="132.61" x2="454.96" y2="132.61" stroke="#5a5a5a" stroke-width="0.55"/>
<line x1="458.03" y1="113.49" x2="458.03" y2="132.09" stroke="#5a5a5a" stroke-width="0.55"/>
<line x1="457.13" y1="113.49" x2="458.93" y2="113.49" stroke="#5a5a5a" stroke-width="0.55"/>
<line x1="457.13" y1="132.09" x2="458.93" y2="132.09" stroke="#5a5a5a" stroke-width="0.55"/>
<line x1="462" y1="117.6" x2="462" y2="127.6" stroke="#5a5a5a" stroke-width="0.55"/>
<line x1="461.1" y1="117.6" x2="462.9" y2="117.6" stroke="#5a5a5a" stroke-width="0.55"/>
<line x1="461.1" y1="127.6" x2="462.9" y2="127.6" stroke="#5a5a5a" stroke-width="0.55"/>
<path d="M303.2 119.46 L307.17 123.3 L311.14 110.2 L315.11 96.72 L319.08 114.48 L323.05 139.71 L327.02 141.84 L330.99 119.51 L334.96 131.81 L338.93 123.62 L342.9 128.53 L346.87 126.5 L350.84 126.54 L354.81 126.88 L358.78 125.52 L362.75 125.65 L366.72 124.4 L370.69 124.38 L374.66 124.37 L378.63 124.35 L382.6 124.34 L386.57 124.32 L390.54 124.31 L394.51 124.3 L398.48 124.28 L402.45 124.27 L406.42 124.25 L410.39 124.24 L414.36 124.22 L418.33 124.21 L422.3 124.1 L426.27 123.94 L430.24 123.77 L434.21 123.61 L438.18 123.44 L442.15 123.27 L446.12 123.11 L450.09 122.94 L454.06 122.71 L458.03 122.19 L462 124.73 L465.97 132.02 L469.94 137.85 L473.91 141.11 L477.88 142.54 L481.85 143.46 L485.82 144.84 L489.79 145.3" fill="none" stroke="#262626" stroke-width="0.95" stroke-linejoin="round"/>
<circle cx="303.2" cy="119.46" r="1.3" fill="#262626"/>
<circle cx="307.17" cy="123.3" r="1.3" fill="#262626"/>
<circle cx="311.14" cy="110.2" r="1.3" fill="#262626"/>
<circle cx="315.11" cy="96.72" r="1.3" fill="#262626"/>
<circle cx="319.08" cy="114.48" r="1.3" fill="#262626"/>
<circle cx="323.05" cy="139.71" r="1.3" fill="#262626"/>
<circle cx="327.02" cy="141.84" r="1.3" fill="#262626"/>
<circle cx="330.99" cy="119.51" r="1.3" fill="#262626"/>
<circle cx="334.96" cy="131.81" r="1.3" fill="#262626"/>
<circle cx="338.93" cy="123.62" r="1.3" fill="#262626"/>
<circle cx="342.9" cy="128.53" r="1.3" fill="#262626"/>
<circle cx="346.87" cy="126.5" r="1.3" fill="#262626"/>
<circle cx="350.84" cy="126.54" r="1.3" fill="#262626"/>
<circle cx="354.81" cy="126.88" r="1.3" fill="#262626"/>
<circle cx="358.78" cy="125.52" r="1.3" fill="#262626"/>
<circle cx="362.75" cy="125.65" r="1.3" fill="#262626"/>
<circle cx="366.72" cy="124.4" r="1.3" fill="#262626"/>
<circle cx="370.69" cy="124.38" r="1.3" fill="#262626"/>
<circle cx="374.66" cy="124.37" r="1.3" fill="#262626"/>
<circle cx="378.63" cy="124.35" r="1.3" fill="#262626"/>
<circle cx="382.6" cy="124.34" r="1.3" fill="#262626"/>
<circle cx="386.57" cy="124.32" r="1.3" fill="#262626"/>
<circle cx="390.54" cy="124.31" r="1.3" fill="#262626"/>
<circle cx="394.51" cy="124.3" r="1.3" fill="#262626"/>
<circle cx="398.48" cy="124.28" r="1.3" fill="#262626"/>
<circle cx="402.45" cy="124.27" r="1.3" fill="#262626"/>
<circle cx="406.42" cy="124.25" r="1.3" fill="#262626"/>
<circle cx="410.39" cy="124.24" r="1.3" fill="#262626"/>
<circle cx="414.36" cy="124.22" r="1.3" fill="#262626"/>
<circle cx="418.33" cy="124.21" r="1.3" fill="#262626"/>
<circle cx="422.3" cy="124.1" r="1.3" fill="#262626"/>
<circle cx="426.27" cy="123.94" r="1.3" fill="#262626"/>
<circle cx="430.24" cy="123.77" r="1.3" fill="#262626"/>
<circle cx="434.21" cy="123.61" r="1.3" fill="#262626"/>
<circle cx="438.18" cy="123.44" r="1.3" fill="#262626"/>
<circle cx="442.15" cy="123.27" r="1.3" fill="#262626"/>
<circle cx="446.12" cy="123.11" r="1.3" fill="#262626"/>
<circle cx="450.09" cy="122.94" r="1.3" fill="#262626"/>
<circle cx="454.06" cy="122.71" r="1.3" fill="#262626"/>
<circle cx="458.03" cy="122.19" r="1.3" fill="#262626"/>
<circle cx="462" cy="124.73" r="1.3" fill="#262626"/>
<circle cx="465.97" cy="132.02" r="1.3" fill="#262626"/>
<circle cx="469.94" cy="137.85" r="1.3" fill="#262626"/>
<circle cx="473.91" cy="141.11" r="1.3" fill="#262626"/>
<circle cx="477.88" cy="142.54" r="1.3" fill="#262626"/>
<circle cx="481.85" cy="143.46" r="1.3" fill="#262626"/>
<circle cx="485.82" cy="144.84" r="1.3" fill="#262626"/>
<circle cx="489.79" cy="145.3" r="1.3" fill="#262626"/>
<path d="M449.4 100.2 L455.3 100.6 L461.3 100.2 L466.9 99.9 L472.7 99.3 L478.6 100.8 L483.9 100.8 L489.7 101.6 L495.5 102.1 L501.3 102.8" fill="none" stroke="#e04848" stroke-width="1.25" stroke-linejoin="round"/>
<circle cx="449.4" cy="100.2" r="1.1" fill="#d40000"/>
<circle cx="455.3" cy="100.6" r="1.1" fill="#d40000"/>
<circle cx="461.3" cy="100.2" r="1.1" fill="#d40000"/>
<circle cx="466.9" cy="99.9" r="1.1" fill="#d40000"/>
<circle cx="472.7" cy="99.3" r="1.1" fill="#d40000"/>
<circle cx="478.6" cy="100.8" r="1.1" fill="#d40000"/>
<circle cx="483.9" cy="100.8" r="1.1" fill="#d40000"/>
<circle cx="489.7" cy="101.6" r="1.1" fill="#d40000"/>
<circle cx="495.5" cy="102.1" r="1.1" fill="#d40000"/>
<circle cx="501.3" cy="102.8" r="1.1" fill="#d40000"/>
<rect x="340.8" y="0" width="209.2" height="98.8" fill="#fff"/>
<line x1="369.8" y1="60.8" x2="530" y2="60.8" stroke="#e6e6e6" stroke-width="0.8"/>
<line x1="369.8" y1="46" x2="530" y2="46" stroke="#e6e6e6" stroke-width="0.8"/>
<line x1="369.8" y1="31.2" x2="530" y2="31.2" stroke="#e6e6e6" stroke-width="0.8"/>
<line x1="369.8" y1="16.4" x2="530" y2="16.4" stroke="#e6e6e6" stroke-width="0.8"/>
<line x1="423.2" y1="16.4" x2="423.2" y2="75.6" stroke="#e6e6e6" stroke-width="0.8"/>
<line x1="476.6" y1="16.4" x2="476.6" y2="75.6" stroke="#e6e6e6" stroke-width="0.8"/>
<line x1="530" y1="16.4" x2="530" y2="75.6" stroke="#e6e6e6" stroke-width="0.8"/>
<line x1="369.8" y1="16.4" x2="369.8" y2="75.6" stroke="#a8a8a8" stroke-width="0.9"/>
<line x1="369.8" y1="75.6" x2="530" y2="75.6" stroke="#a6a6a6" stroke-width="1"/>
<text x="365.2" y="75.6" font-size="5.8" text-anchor="end" font-weight="normal" fill="#2a2a2a" stroke="#2a2a2a" stroke-width="0.18" dominant-baseline="central">0,00</text>
<text x="365.2" y="60.8" font-size="5.8" text-anchor="end" font-weight="normal" fill="#2a2a2a" stroke="#2a2a2a" stroke-width="0.18" dominant-baseline="central">0,02</text>
<text x="365.2" y="46" font-size="5.8" text-anchor="end" font-weight="normal" fill="#2a2a2a" stroke="#2a2a2a" stroke-width="0.18" dominant-baseline="central">0,04</text>
<text x="365.2" y="31.2" font-size="5.8" text-anchor="end" font-weight="normal" fill="#2a2a2a" stroke="#2a2a2a" stroke-width="0.18" dominant-baseline="central">0,06</text>
<text x="365.2" y="16.4" font-size="5.8" text-anchor="end" font-weight="normal" fill="#2a2a2a" stroke="#2a2a2a" stroke-width="0.18" dominant-baseline="central">0,08</text>
<text x="366.5" y="81.8" font-size="6" text-anchor="middle" font-weight="normal" fill="#2a2a2a" stroke="#2a2a2a" stroke-width="0.18" dominant-baseline="central">100</text>
<text x="422.5" y="81.8" font-size="6" text-anchor="middle" font-weight="normal" fill="#2a2a2a" stroke="#2a2a2a" stroke-width="0.18" dominant-baseline="central">1000</text>
<text x="477" y="81.8" font-size="6" text-anchor="middle" font-weight="normal" fill="#2a2a2a" stroke="#2a2a2a" stroke-width="0.18" dominant-baseline="central">10,000</text>
<text x="531.2" y="81.8" font-size="6" text-anchor="middle" font-weight="normal" fill="#2a2a2a" stroke="#2a2a2a" stroke-width="0.18" dominant-baseline="central">100,000</text>
<text x="449.5" y="90" font-size="6.4" text-anchor="middle" font-weight="bold" fill="#000" stroke="#000" stroke-width="0.08" dominant-baseline="central">Shear rate (s<tspan font-size="3.97" dy="-1.6">&#8722;1</tspan><tspan dy="1.6">)</tspan></text>
<text x="348.9" y="46.1" font-size="6.4" text-anchor="middle" font-weight="bold" fill="#000" stroke="#000" stroke-width="0.08" dominant-baseline="central" transform="rotate(-90 348.9 46.1)">Viscosity (Pa&#183;s)</text>
<line x1="369.8" y1="54.3" x2="369.8" y2="64.8" stroke="#5a5a5a" stroke-width="0.7"/>
<line x1="368.6" y1="54.3" x2="371" y2="54.3" stroke="#5a5a5a" stroke-width="0.7"/>
<line x1="368.6" y1="64.8" x2="371" y2="64.8" stroke="#5a5a5a" stroke-width="0.7"/>
<line x1="375.14" y1="54.3" x2="375.14" y2="64.8" stroke="#5a5a5a" stroke-width="0.7"/>
<line x1="373.94" y1="54.3" x2="376.34" y2="54.3" stroke="#5a5a5a" stroke-width="0.7"/>
<line x1="373.94" y1="64.8" x2="376.34" y2="64.8" stroke="#5a5a5a" stroke-width="0.7"/>
<line x1="380.48" y1="54.3" x2="380.48" y2="64.8" stroke="#5a5a5a" stroke-width="0.7"/>
<line x1="379.28" y1="54.3" x2="381.68" y2="54.3" stroke="#5a5a5a" stroke-width="0.7"/>
<line x1="379.28" y1="64.8" x2="381.68" y2="64.8" stroke="#5a5a5a" stroke-width="0.7"/>
<line x1="385.82" y1="54.3" x2="385.82" y2="64.8" stroke="#5a5a5a" stroke-width="0.7"/>
<line x1="384.62" y1="54.3" x2="387.02" y2="54.3" stroke="#5a5a5a" stroke-width="0.7"/>
<line x1="384.62" y1="64.8" x2="387.02" y2="64.8" stroke="#5a5a5a" stroke-width="0.7"/>
<line x1="391.16" y1="54.3" x2="391.16" y2="64.8" stroke="#5a5a5a" stroke-width="0.7"/>
<line x1="389.96" y1="54.3" x2="392.36" y2="54.3" stroke="#5a5a5a" stroke-width="0.7"/>
<line x1="389.96" y1="64.8" x2="392.36" y2="64.8" stroke="#5a5a5a" stroke-width="0.7"/>
<line x1="396.5" y1="54.3" x2="396.5" y2="64.8" stroke="#5a5a5a" stroke-width="0.7"/>
<line x1="395.3" y1="54.3" x2="397.7" y2="54.3" stroke="#5a5a5a" stroke-width="0.7"/>
<line x1="395.3" y1="64.8" x2="397.7" y2="64.8" stroke="#5a5a5a" stroke-width="0.7"/>
<line x1="401.84" y1="54.3" x2="401.84" y2="64.8" stroke="#5a5a5a" stroke-width="0.7"/>
<line x1="400.64" y1="54.3" x2="403.04" y2="54.3" stroke="#5a5a5a" stroke-width="0.7"/>
<line x1="400.64" y1="64.8" x2="403.04" y2="64.8" stroke="#5a5a5a" stroke-width="0.7"/>
<line x1="407.18" y1="53.8" x2="407.18" y2="64.8" stroke="#5a5a5a" stroke-width="0.7"/>
<line x1="405.98" y1="53.8" x2="408.38" y2="53.8" stroke="#5a5a5a" stroke-width="0.7"/>
<line x1="405.98" y1="64.8" x2="408.38" y2="64.8" stroke="#5a5a5a" stroke-width="0.7"/>
<line x1="412.52" y1="53.8" x2="412.52" y2="64.8" stroke="#5a5a5a" stroke-width="0.7"/>
<line x1="411.32" y1="53.8" x2="413.72" y2="53.8" stroke="#5a5a5a" stroke-width="0.7"/>
<line x1="411.32" y1="64.8" x2="413.72" y2="64.8" stroke="#5a5a5a" stroke-width="0.7"/>
<line x1="417.86" y1="53.8" x2="417.86" y2="64.8" stroke="#5a5a5a" stroke-width="0.7"/>
<line x1="416.66" y1="53.8" x2="419.06" y2="53.8" stroke="#5a5a5a" stroke-width="0.7"/>
<line x1="416.66" y1="64.8" x2="419.06" y2="64.8" stroke="#5a5a5a" stroke-width="0.7"/>
<line x1="423.2" y1="56.3" x2="423.2" y2="62.5" stroke="#5a5a5a" stroke-width="0.7"/>
<line x1="422" y1="56.3" x2="424.4" y2="56.3" stroke="#5a5a5a" stroke-width="0.7"/>
<line x1="422" y1="62.5" x2="424.4" y2="62.5" stroke="#5a5a5a" stroke-width="0.7"/>
<path d="M369.8 59.9 L375.14 59.9 L380.48 59.9 L385.82 59.9 L391.16 59.9 L396.5 59.9 L401.84 59.89 L407.18 59.69 L412.52 59.5 L417.86 59.2 L423.2 60.4 L428.54 64.06 L433.88 67.73 L439.22 69.4 L444.56 70.21 L449.9 70.71 L455.24 71.32 L460.58 72.2" fill="none" stroke="#262626" stroke-width="0.95" stroke-linejoin="round"/>
<circle cx="369.8" cy="59.9" r="1.3" fill="#262626"/>
<circle cx="375.14" cy="59.9" r="1.3" fill="#262626"/>
<circle cx="380.48" cy="59.9" r="1.3" fill="#262626"/>
<circle cx="385.82" cy="59.9" r="1.3" fill="#262626"/>
<circle cx="391.16" cy="59.9" r="1.3" fill="#262626"/>
<circle cx="396.5" cy="59.9" r="1.3" fill="#262626"/>
<circle cx="401.84" cy="59.89" r="1.3" fill="#262626"/>
<circle cx="407.18" cy="59.69" r="1.3" fill="#262626"/>
<circle cx="412.52" cy="59.5" r="1.3" fill="#262626"/>
<circle cx="417.86" cy="59.2" r="1.3" fill="#262626"/>
<circle cx="423.2" cy="60.4" r="1.3" fill="#262626"/>
<circle cx="428.54" cy="64.06" r="1.3" fill="#262626"/>
<circle cx="433.88" cy="67.73" r="1.3" fill="#262626"/>
<circle cx="439.22" cy="69.4" r="1.3" fill="#262626"/>
<circle cx="444.56" cy="70.21" r="1.3" fill="#262626"/>
<circle cx="449.9" cy="70.71" r="1.3" fill="#262626"/>
<circle cx="455.24" cy="71.32" r="1.3" fill="#262626"/>
<circle cx="460.58" cy="72.2" r="1.3" fill="#262626"/>
<path d="M406.8 47.3 L414.6 47.3 L422.5 47.3 L430.2 46.9 L437.9 46.8 L445.4 47.6 L453.1 47.3 L460.8 48.1 L468.6 48.4 L476.3 48.6" fill="none" stroke="#e04848" stroke-width="1.25" stroke-linejoin="round"/>
<circle cx="406.8" cy="47.3" r="1.1" fill="#d40000"/>
<circle cx="414.6" cy="47.3" r="1.1" fill="#d40000"/>
<circle cx="422.5" cy="47.3" r="1.1" fill="#d40000"/>
<circle cx="430.2" cy="46.9" r="1.1" fill="#d40000"/>
<circle cx="437.9" cy="46.8" r="1.1" fill="#d40000"/>
<circle cx="445.4" cy="47.6" r="1.1" fill="#d40000"/>
<circle cx="453.1" cy="47.3" r="1.1" fill="#d40000"/>
<circle cx="460.8" cy="48.1" r="1.1" fill="#d40000"/>
<circle cx="468.6" cy="48.4" r="1.1" fill="#d40000"/>
<circle cx="476.3" cy="48.6" r="1.1" fill="#d40000"/>
<text x="310.6" y="7.7" font-size="8.6" text-anchor="middle" font-weight="bold" fill="#000" stroke="#000" stroke-width="0.08" dominant-baseline="central">B.</text>
<line x1="28.2" y1="299.42" x2="261" y2="299.42" stroke="#e6e6e6" stroke-width="0.8"/>
<line x1="28.2" y1="272.24" x2="261" y2="272.24" stroke="#e6e6e6" stroke-width="0.8"/>
<line x1="28.2" y1="245.06" x2="261" y2="245.06" stroke="#e6e6e6" stroke-width="0.8"/>
<line x1="28.2" y1="217.88" x2="261" y2="217.88" stroke="#e6e6e6" stroke-width="0.8"/>
<line x1="28.2" y1="190.7" x2="261" y2="190.7" stroke="#e6e6e6" stroke-width="0.8"/>
<line x1="67" y1="190.7" x2="67" y2="326.6" stroke="#e6e6e6" stroke-width="0.8"/>
<line x1="105.8" y1="190.7" x2="105.8" y2="326.6" stroke="#e6e6e6" stroke-width="0.8"/>
<line x1="144.6" y1="190.7" x2="144.6" y2="326.6" stroke="#e6e6e6" stroke-width="0.8"/>
<line x1="183.4" y1="190.7" x2="183.4" y2="326.6" stroke="#e6e6e6" stroke-width="0.8"/>
<line x1="222.2" y1="190.7" x2="222.2" y2="326.6" stroke="#e6e6e6" stroke-width="0.8"/>
<line x1="261" y1="190.7" x2="261" y2="326.6" stroke="#e6e6e6" stroke-width="0.8"/>
<line x1="28.2" y1="190.7" x2="28.2" y2="326.6" stroke="#a8a8a8" stroke-width="0.9"/>
<line x1="28.2" y1="326.6" x2="261" y2="326.6" stroke="#a6a6a6" stroke-width="1"/>
<text x="24.2" y="326.6" font-size="6" text-anchor="end" font-weight="normal" fill="#2a2a2a" stroke="#2a2a2a" stroke-width="0.18" dominant-baseline="central">0,00</text>
<text x="24.2" y="299.42" font-size="6" text-anchor="end" font-weight="normal" fill="#2a2a2a" stroke="#2a2a2a" stroke-width="0.18" dominant-baseline="central">0,02</text>
<text x="24.2" y="272.24" font-size="6" text-anchor="end" font-weight="normal" fill="#2a2a2a" stroke="#2a2a2a" stroke-width="0.18" dominant-baseline="central">0,04</text>
<text x="24.2" y="245.06" font-size="6" text-anchor="end" font-weight="normal" fill="#2a2a2a" stroke="#2a2a2a" stroke-width="0.18" dominant-baseline="central">0,06</text>
<text x="24.2" y="217.88" font-size="6" text-anchor="end" font-weight="normal" fill="#2a2a2a" stroke="#2a2a2a" stroke-width="0.18" dominant-baseline="central">0,08</text>
<text x="24.2" y="190.7" font-size="6" text-anchor="end" font-weight="normal" fill="#2a2a2a" stroke="#2a2a2a" stroke-width="0.18" dominant-baseline="central">0,10</text>
<text x="28.2" y="333.8" font-size="6" text-anchor="middle" font-weight="normal" fill="#2a2a2a" stroke="#2a2a2a" stroke-width="0.18" dominant-baseline="central">0.1</text>
<text x="65.5" y="333.8" font-size="6" text-anchor="middle" font-weight="normal" fill="#2a2a2a" stroke="#2a2a2a" stroke-width="0.18" dominant-baseline="central">1</text>
<text x="104" y="333.8" font-size="6" text-anchor="middle" font-weight="normal" fill="#2a2a2a" stroke="#2a2a2a" stroke-width="0.18" dominant-baseline="central">10</text>
<text x="142.2" y="333.8" font-size="6" text-anchor="middle" font-weight="normal" fill="#2a2a2a" stroke="#2a2a2a" stroke-width="0.18" dominant-baseline="central">100</text>
<text x="180" y="333.8" font-size="6" text-anchor="middle" font-weight="normal" fill="#2a2a2a" stroke="#2a2a2a" stroke-width="0.18" dominant-baseline="central">1000</text>
<text x="217.7" y="333.8" font-size="6" text-anchor="middle" font-weight="normal" fill="#2a2a2a" stroke="#2a2a2a" stroke-width="0.18" dominant-baseline="central">10,000</text>
<text x="255.3" y="333.8" font-size="6" text-anchor="middle" font-weight="normal" fill="#2a2a2a" stroke="#2a2a2a" stroke-width="0.18" dominant-baseline="central">100,000</text>
<text x="144.4" y="341.5" font-size="6.4" text-anchor="middle" font-weight="bold" fill="#000" stroke="#000" stroke-width="0.08" dominant-baseline="central">Shear rate (s<tspan font-size="3.97" dy="-1.6">&#8722;1</tspan><tspan dy="1.6">)</tspan></text>
<text x="7.8" y="258.8" font-size="6.4" text-anchor="middle" font-weight="bold" fill="#000" stroke="#000" stroke-width="0.08" dominant-baseline="central" transform="rotate(-90 7.8 258.8)">Viscosity (Pa&#183;s)</text>
<clipPath id="clipC"><rect x="28" y="190.1" width="240" height="140"/></clipPath>
<g clip-path="url(#clipC)">
<line x1="67.2" y1="268.4" x2="67.2" y2="285.5" stroke="#5a5a5a" stroke-width="0.55"/>
<line x1="66.3" y1="268.4" x2="68.1" y2="268.4" stroke="#5a5a5a" stroke-width="0.55"/>
<line x1="66.3" y1="285.5" x2="68.1" y2="285.5" stroke="#5a5a5a" stroke-width="0.55"/>
<line x1="71.1" y1="266.6" x2="71.1" y2="303" stroke="#5a5a5a" stroke-width="0.55"/>
<line x1="70.2" y1="266.6" x2="72" y2="266.6" stroke="#5a5a5a" stroke-width="0.55"/>
<line x1="70.2" y1="303" x2="72" y2="303" stroke="#5a5a5a" stroke-width="0.55"/>
<line x1="75" y1="270" x2="75" y2="295" stroke="#5a5a5a" stroke-width="0.55"/>
<line x1="74.1" y1="270" x2="75.9" y2="270" stroke="#5a5a5a" stroke-width="0.55"/>
<line x1="74.1" y1="295" x2="75.9" y2="295" stroke="#5a5a5a" stroke-width="0.55"/>
<line x1="78.9" y1="282" x2="78.9" y2="296" stroke="#5a5a5a" stroke-width="0.55"/>
<line x1="78" y1="282" x2="79.8" y2="282" stroke="#5a5a5a" stroke-width="0.55"/>
<line x1="78" y1="296" x2="79.8" y2="296" stroke="#5a5a5a" stroke-width="0.55"/>
<line x1="82.8" y1="295" x2="82.8" y2="306" stroke="#5a5a5a" stroke-width="0.55"/>
<line x1="81.9" y1="295" x2="83.7" y2="295" stroke="#5a5a5a" stroke-width="0.55"/>
<line x1="81.9" y1="306" x2="83.7" y2="306" stroke="#5a5a5a" stroke-width="0.55"/>
<line x1="86.7" y1="291" x2="86.7" y2="300.5" stroke="#5a5a5a" stroke-width="0.55"/>
<line x1="85.8" y1="291" x2="87.6" y2="291" stroke="#5a5a5a" stroke-width="0.55"/>
<line x1="85.8" y1="300.5" x2="87.6" y2="300.5" stroke="#5a5a5a" stroke-width="0.55"/>
<line x1="90.6" y1="302.6" x2="90.6" y2="306.2" stroke="#5a5a5a" stroke-width="0.55"/>
<line x1="89.7" y1="302.6" x2="91.5" y2="302.6" stroke="#5a5a5a" stroke-width="0.55"/>
<line x1="89.7" y1="306.2" x2="91.5" y2="306.2" stroke="#5a5a5a" stroke-width="0.55"/>
<line x1="94.5" y1="309.5" x2="94.5" y2="313.1" stroke="#5a5a5a" stroke-width="0.55"/>
<line x1="93.6" y1="309.5" x2="95.4" y2="309.5" stroke="#5a5a5a" stroke-width="0.55"/>
<line x1="93.6" y1="313.1" x2="95.4" y2="313.1" stroke="#5a5a5a" stroke-width="0.55"/>
<line x1="98.4" y1="312.9" x2="98.4" y2="316.5" stroke="#5a5a5a" stroke-width="0.55"/>
<line x1="97.5" y1="312.9" x2="99.3" y2="312.9" stroke="#5a5a5a" stroke-width="0.55"/>
<line x1="97.5" y1="316.5" x2="99.3" y2="316.5" stroke="#5a5a5a" stroke-width="0.55"/>
<line x1="102.3" y1="313.2" x2="102.3" y2="316.8" stroke="#5a5a5a" stroke-width="0.55"/>
<line x1="101.4" y1="313.2" x2="103.2" y2="313.2" stroke="#5a5a5a" stroke-width="0.55"/>
<line x1="101.4" y1="316.8" x2="103.2" y2="316.8" stroke="#5a5a5a" stroke-width="0.55"/>
<line x1="106.2" y1="317.2" x2="106.2" y2="320.8" stroke="#5a5a5a" stroke-width="0.55"/>
<line x1="105.3" y1="317.2" x2="107.1" y2="317.2" stroke="#5a5a5a" stroke-width="0.55"/>
<line x1="105.3" y1="320.8" x2="107.1" y2="320.8" stroke="#5a5a5a" stroke-width="0.55"/>
<line x1="110.1" y1="318.2" x2="110.1" y2="321.8" stroke="#5a5a5a" stroke-width="0.55"/>
<line x1="109.2" y1="318.2" x2="111" y2="318.2" stroke="#5a5a5a" stroke-width="0.55"/>
<line x1="109.2" y1="321.8" x2="111" y2="321.8" stroke="#5a5a5a" stroke-width="0.55"/>
<line x1="114" y1="318.9" x2="114" y2="322.5" stroke="#5a5a5a" stroke-width="0.55"/>
<line x1="113.1" y1="318.9" x2="114.9" y2="318.9" stroke="#5a5a5a" stroke-width="0.55"/>
<line x1="113.1" y1="322.5" x2="114.9" y2="322.5" stroke="#5a5a5a" stroke-width="0.55"/>
<line x1="117.9" y1="319.9" x2="117.9" y2="323.5" stroke="#5a5a5a" stroke-width="0.55"/>
<line x1="117" y1="319.9" x2="118.8" y2="319.9" stroke="#5a5a5a" stroke-width="0.55"/>
<line x1="117" y1="323.5" x2="118.8" y2="323.5" stroke="#5a5a5a" stroke-width="0.55"/>
<line x1="121.8" y1="320.4" x2="121.8" y2="324" stroke="#5a5a5a" stroke-width="0.55"/>
<line x1="120.9" y1="320.4" x2="122.7" y2="320.4" stroke="#5a5a5a" stroke-width="0.55"/>
<line x1="120.9" y1="324" x2="122.7" y2="324" stroke="#5a5a5a" stroke-width="0.55"/>
<line x1="125.7" y1="320.7" x2="125.7" y2="324.3" stroke="#5a5a5a" stroke-width="0.55"/>
<line x1="124.8" y1="320.7" x2="126.6" y2="320.7" stroke="#5a5a5a" stroke-width="0.55"/>
<line x1="124.8" y1="324.3" x2="126.6" y2="324.3" stroke="#5a5a5a" stroke-width="0.55"/>
<line x1="129.6" y1="320.9" x2="129.6" y2="324.5" stroke="#5a5a5a" stroke-width="0.55"/>
<line x1="128.7" y1="320.9" x2="130.5" y2="320.9" stroke="#5a5a5a" stroke-width="0.55"/>
<line x1="128.7" y1="324.5" x2="130.5" y2="324.5" stroke="#5a5a5a" stroke-width="0.55"/>
<line x1="133.5" y1="320.95" x2="133.5" y2="324.55" stroke="#5a5a5a" stroke-width="0.55"/>
<line x1="132.6" y1="320.95" x2="134.4" y2="320.95" stroke="#5a5a5a" stroke-width="0.55"/>
<line x1="132.6" y1="324.55" x2="134.4" y2="324.55" stroke="#5a5a5a" stroke-width="0.55"/>
<line x1="137.4" y1="320.99" x2="137.4" y2="324.59" stroke="#5a5a5a" stroke-width="0.55"/>
<line x1="136.5" y1="320.99" x2="138.3" y2="320.99" stroke="#5a5a5a" stroke-width="0.55"/>
<line x1="136.5" y1="324.59" x2="138.3" y2="324.59" stroke="#5a5a5a" stroke-width="0.55"/>
<line x1="141.3" y1="321.04" x2="141.3" y2="324.64" stroke="#5a5a5a" stroke-width="0.55"/>
<line x1="140.4" y1="321.04" x2="142.2" y2="321.04" stroke="#5a5a5a" stroke-width="0.55"/>
<line x1="140.4" y1="324.64" x2="142.2" y2="324.64" stroke="#5a5a5a" stroke-width="0.55"/>
<line x1="145.2" y1="321.08" x2="145.2" y2="324.68" stroke="#5a5a5a" stroke-width="0.55"/>
<line x1="144.3" y1="321.08" x2="146.1" y2="321.08" stroke="#5a5a5a" stroke-width="0.55"/>
<line x1="144.3" y1="324.68" x2="146.1" y2="324.68" stroke="#5a5a5a" stroke-width="0.55"/>
<line x1="149.1" y1="321.13" x2="149.1" y2="324.73" stroke="#5a5a5a" stroke-width="0.55"/>
<line x1="148.2" y1="321.13" x2="150" y2="321.13" stroke="#5a5a5a" stroke-width="0.55"/>
<line x1="148.2" y1="324.73" x2="150" y2="324.73" stroke="#5a5a5a" stroke-width="0.55"/>
<line x1="153" y1="321.18" x2="153" y2="324.78" stroke="#5a5a5a" stroke-width="0.55"/>
<line x1="152.1" y1="321.18" x2="153.9" y2="321.18" stroke="#5a5a5a" stroke-width="0.55"/>
<line x1="152.1" y1="324.78" x2="153.9" y2="324.78" stroke="#5a5a5a" stroke-width="0.55"/>
<line x1="156.9" y1="321.22" x2="156.9" y2="324.82" stroke="#5a5a5a" stroke-width="0.55"/>
<line x1="156" y1="321.22" x2="157.8" y2="321.22" stroke="#5a5a5a" stroke-width="0.55"/>
<line x1="156" y1="324.82" x2="157.8" y2="324.82" stroke="#5a5a5a" stroke-width="0.55"/>
<line x1="160.8" y1="321.27" x2="160.8" y2="324.87" stroke="#5a5a5a" stroke-width="0.55"/>
<line x1="159.9" y1="321.27" x2="161.7" y2="321.27" stroke="#5a5a5a" stroke-width="0.55"/>
<line x1="159.9" y1="324.87" x2="161.7" y2="324.87" stroke="#5a5a5a" stroke-width="0.55"/>
<line x1="164.7" y1="321.31" x2="164.7" y2="324.91" stroke="#5a5a5a" stroke-width="0.55"/>
<line x1="163.8" y1="321.31" x2="165.6" y2="321.31" stroke="#5a5a5a" stroke-width="0.55"/>
<line x1="163.8" y1="324.91" x2="165.6" y2="324.91" stroke="#5a5a5a" stroke-width="0.55"/>
<line x1="168.6" y1="321.36" x2="168.6" y2="324.96" stroke="#5a5a5a" stroke-width="0.55"/>
<line x1="167.7" y1="321.36" x2="169.5" y2="321.36" stroke="#5a5a5a" stroke-width="0.55"/>
<line x1="167.7" y1="324.96" x2="169.5" y2="324.96" stroke="#5a5a5a" stroke-width="0.55"/>
<line x1="172.5" y1="321.4" x2="172.5" y2="325" stroke="#5a5a5a" stroke-width="0.55"/>
<line x1="171.6" y1="321.4" x2="173.4" y2="321.4" stroke="#5a5a5a" stroke-width="0.55"/>
<line x1="171.6" y1="325" x2="173.4" y2="325" stroke="#5a5a5a" stroke-width="0.55"/>
<line x1="176.4" y1="321.36" x2="176.4" y2="324.96" stroke="#5a5a5a" stroke-width="0.55"/>
<line x1="175.5" y1="321.36" x2="177.3" y2="321.36" stroke="#5a5a5a" stroke-width="0.55"/>
<line x1="175.5" y1="324.96" x2="177.3" y2="324.96" stroke="#5a5a5a" stroke-width="0.55"/>
<line x1="180.3" y1="321.32" x2="180.3" y2="324.92" stroke="#5a5a5a" stroke-width="0.55"/>
<line x1="179.4" y1="321.32" x2="181.2" y2="321.32" stroke="#5a5a5a" stroke-width="0.55"/>
<line x1="179.4" y1="324.92" x2="181.2" y2="324.92" stroke="#5a5a5a" stroke-width="0.55"/>
<line x1="184.2" y1="321.28" x2="184.2" y2="324.88" stroke="#5a5a5a" stroke-width="0.55"/>
<line x1="183.3" y1="321.28" x2="185.1" y2="321.28" stroke="#5a5a5a" stroke-width="0.55"/>
<line x1="183.3" y1="324.88" x2="185.1" y2="324.88" stroke="#5a5a5a" stroke-width="0.55"/>
<line x1="188.1" y1="321.24" x2="188.1" y2="324.84" stroke="#5a5a5a" stroke-width="0.55"/>
<line x1="187.2" y1="321.24" x2="189" y2="321.24" stroke="#5a5a5a" stroke-width="0.55"/>
<line x1="187.2" y1="324.84" x2="189" y2="324.84" stroke="#5a5a5a" stroke-width="0.55"/>
<line x1="192" y1="321.2" x2="192" y2="324.8" stroke="#5a5a5a" stroke-width="0.55"/>
<line x1="191.1" y1="321.2" x2="192.9" y2="321.2" stroke="#5a5a5a" stroke-width="0.55"/>
<line x1="191.1" y1="324.8" x2="192.9" y2="324.8" stroke="#5a5a5a" stroke-width="0.55"/>
<line x1="195.9" y1="321.16" x2="195.9" y2="324.76" stroke="#5a5a5a" stroke-width="0.55"/>
<line x1="195" y1="321.16" x2="196.8" y2="321.16" stroke="#5a5a5a" stroke-width="0.55"/>
<line x1="195" y1="324.76" x2="196.8" y2="324.76" stroke="#5a5a5a" stroke-width="0.55"/>
<line x1="199.8" y1="321.12" x2="199.8" y2="324.72" stroke="#5a5a5a" stroke-width="0.55"/>
<line x1="198.9" y1="321.12" x2="200.7" y2="321.12" stroke="#5a5a5a" stroke-width="0.55"/>
<line x1="198.9" y1="324.72" x2="200.7" y2="324.72" stroke="#5a5a5a" stroke-width="0.55"/>
<line x1="203.7" y1="321.09" x2="203.7" y2="324.69" stroke="#5a5a5a" stroke-width="0.55"/>
<line x1="202.8" y1="321.09" x2="204.6" y2="321.09" stroke="#5a5a5a" stroke-width="0.55"/>
<line x1="202.8" y1="324.69" x2="204.6" y2="324.69" stroke="#5a5a5a" stroke-width="0.55"/>
<line x1="207.6" y1="321.05" x2="207.6" y2="324.65" stroke="#5a5a5a" stroke-width="0.55"/>
<line x1="206.7" y1="321.05" x2="208.5" y2="321.05" stroke="#5a5a5a" stroke-width="0.55"/>
<line x1="206.7" y1="324.65" x2="208.5" y2="324.65" stroke="#5a5a5a" stroke-width="0.55"/>
<line x1="211.5" y1="321.01" x2="211.5" y2="324.61" stroke="#5a5a5a" stroke-width="0.55"/>
<line x1="210.6" y1="321.01" x2="212.4" y2="321.01" stroke="#5a5a5a" stroke-width="0.55"/>
<line x1="210.6" y1="324.61" x2="212.4" y2="324.61" stroke="#5a5a5a" stroke-width="0.55"/>
<line x1="215.4" y1="321" x2="215.4" y2="324.6" stroke="#5a5a5a" stroke-width="0.55"/>
<line x1="214.5" y1="321" x2="216.3" y2="321" stroke="#5a5a5a" stroke-width="0.55"/>
<line x1="214.5" y1="324.6" x2="216.3" y2="324.6" stroke="#5a5a5a" stroke-width="0.55"/>
<line x1="219.3" y1="322.33" x2="219.3" y2="325.93" stroke="#5a5a5a" stroke-width="0.55"/>
<line x1="218.4" y1="322.33" x2="220.2" y2="322.33" stroke="#5a5a5a" stroke-width="0.55"/>
<line x1="218.4" y1="325.93" x2="220.2" y2="325.93" stroke="#5a5a5a" stroke-width="0.55"/>
<line x1="223.2" y1="323.3" x2="223.2" y2="326.9" stroke="#5a5a5a" stroke-width="0.55"/>
<line x1="222.3" y1="323.3" x2="224.1" y2="323.3" stroke="#5a5a5a" stroke-width="0.55"/>
<line x1="222.3" y1="326.9" x2="224.1" y2="326.9" stroke="#5a5a5a" stroke-width="0.55"/>
<path d="M43.8 150 L47.7 209.1 L51.6 273.5 L55.5 271.4 L59.4 243.8 L63.3 255.1 L67.2 276.9 L71.1 285 L75 282.1 L78.9 288 L82.8 300.6 L86.7 295.8 L90.6 304.4 L94.5 311.3 L98.4 314.7 L102.3 315 L106.2 319 L110.1 320 L114 320.7 L117.9 321.7 L121.8 322.2 L125.7 322.5 L129.6 322.7 L133.5 322.75 L137.4 322.79 L141.3 322.84 L145.2 322.88 L149.1 322.93 L153 322.98 L156.9 323.02 L160.8 323.07 L164.7 323.11 L168.6 323.16 L172.5 323.2 L176.4 323.16 L180.3 323.12 L184.2 323.08 L188.1 323.04 L192 323 L195.9 322.96 L199.8 322.92 L203.7 322.89 L207.6 322.85 L211.5 322.81 L215.4 322.8 L219.3 324.13 L223.2 325.1" fill="none" stroke="#262626" stroke-width="0.95" stroke-linejoin="round"/>
<circle cx="43.8" cy="150" r="1.3" fill="#262626"/>
<circle cx="47.7" cy="209.1" r="1.3" fill="#262626"/>
<circle cx="51.6" cy="273.5" r="1.3" fill="#262626"/>
<circle cx="55.5" cy="271.4" r="1.3" fill="#262626"/>
<circle cx="59.4" cy="243.8" r="1.3" fill="#262626"/>
<circle cx="63.3" cy="255.1" r="1.3" fill="#262626"/>
<circle cx="67.2" cy="276.9" r="1.3" fill="#262626"/>
<circle cx="71.1" cy="285" r="1.3" fill="#262626"/>
<circle cx="75" cy="282.1" r="1.3" fill="#262626"/>
<circle cx="78.9" cy="288" r="1.3" fill="#262626"/>
<circle cx="82.8" cy="300.6" r="1.3" fill="#262626"/>
<circle cx="86.7" cy="295.8" r="1.3" fill="#262626"/>
<circle cx="90.6" cy="304.4" r="1.3" fill="#262626"/>
<circle cx="94.5" cy="311.3" r="1.3" fill="#262626"/>
<circle cx="98.4" cy="314.7" r="1.3" fill="#262626"/>
<circle cx="102.3" cy="315" r="1.3" fill="#262626"/>
<circle cx="106.2" cy="319" r="1.3" fill="#262626"/>
<circle cx="110.1" cy="320" r="1.3" fill="#262626"/>
<circle cx="114" cy="320.7" r="1.3" fill="#262626"/>
<circle cx="117.9" cy="321.7" r="1.3" fill="#262626"/>
<circle cx="121.8" cy="322.2" r="1.3" fill="#262626"/>
<circle cx="125.7" cy="322.5" r="1.3" fill="#262626"/>
<circle cx="129.6" cy="322.7" r="1.3" fill="#262626"/>
<circle cx="133.5" cy="322.75" r="1.3" fill="#262626"/>
<circle cx="137.4" cy="322.79" r="1.3" fill="#262626"/>
<circle cx="141.3" cy="322.84" r="1.3" fill="#262626"/>
<circle cx="145.2" cy="322.88" r="1.3" fill="#262626"/>
<circle cx="149.1" cy="322.93" r="1.3" fill="#262626"/>
<circle cx="153" cy="322.98" r="1.3" fill="#262626"/>
<circle cx="156.9" cy="323.02" r="1.3" fill="#262626"/>
<circle cx="160.8" cy="323.07" r="1.3" fill="#262626"/>
<circle cx="164.7" cy="323.11" r="1.3" fill="#262626"/>
<circle cx="168.6" cy="323.16" r="1.3" fill="#262626"/>
<circle cx="172.5" cy="323.2" r="1.3" fill="#262626"/>
<circle cx="176.4" cy="323.16" r="1.3" fill="#262626"/>
<circle cx="180.3" cy="323.12" r="1.3" fill="#262626"/>
<circle cx="184.2" cy="323.08" r="1.3" fill="#262626"/>
<circle cx="188.1" cy="323.04" r="1.3" fill="#262626"/>
<circle cx="192" cy="323" r="1.3" fill="#262626"/>
<circle cx="195.9" cy="322.96" r="1.3" fill="#262626"/>
<circle cx="199.8" cy="322.92" r="1.3" fill="#262626"/>
<circle cx="203.7" cy="322.89" r="1.3" fill="#262626"/>
<circle cx="207.6" cy="322.85" r="1.3" fill="#262626"/>
<circle cx="211.5" cy="322.81" r="1.3" fill="#262626"/>
<circle cx="215.4" cy="322.8" r="1.3" fill="#262626"/>
<circle cx="219.3" cy="324.13" r="1.3" fill="#262626"/>
<circle cx="223.2" cy="325.1" r="1.3" fill="#262626"/>
</g>
<path d="M171.8 322.3 L179.77 322.24 L187.73 322.19 L195.7 322.13 L203.67 322.08 L211.63 322.02 L219.6 321.97 L227.57 321.91 L235.53 321.86 L243.5 321.8" fill="none" stroke="#e04848" stroke-width="1.25" stroke-linejoin="round"/>
<circle cx="171.8" cy="322.3" r="1.1" fill="#d40000"/>
<circle cx="179.77" cy="322.24" r="1.1" fill="#d40000"/>
<circle cx="187.73" cy="322.19" r="1.1" fill="#d40000"/>
<circle cx="195.7" cy="322.13" r="1.1" fill="#d40000"/>
<circle cx="203.67" cy="322.08" r="1.1" fill="#d40000"/>
<circle cx="211.63" cy="322.02" r="1.1" fill="#d40000"/>
<circle cx="219.6" cy="321.97" r="1.1" fill="#d40000"/>
<circle cx="227.57" cy="321.91" r="1.1" fill="#d40000"/>
<circle cx="235.53" cy="321.86" r="1.1" fill="#d40000"/>
<circle cx="243.5" cy="321.8" r="1.1" fill="#d40000"/>
<rect x="68" y="181" width="207" height="86" fill="#fff"/>
<line x1="108.3" y1="233.44" x2="247.8" y2="233.44" stroke="#e6e6e6" stroke-width="0.8"/>
<line x1="108.3" y1="222.98" x2="247.8" y2="222.98" stroke="#e6e6e6" stroke-width="0.8"/>
<line x1="108.3" y1="212.52" x2="247.8" y2="212.52" stroke="#e6e6e6" stroke-width="0.8"/>
<line x1="108.3" y1="202.06" x2="247.8" y2="202.06" stroke="#e6e6e6" stroke-width="0.8"/>
<line x1="108.3" y1="191.6" x2="247.8" y2="191.6" stroke="#e6e6e6" stroke-width="0.8"/>
<line x1="154.8" y1="191.6" x2="154.8" y2="243.9" stroke="#e6e6e6" stroke-width="0.8"/>
<line x1="201.3" y1="191.6" x2="201.3" y2="243.9" stroke="#e6e6e6" stroke-width="0.8"/>
<line x1="247.8" y1="191.6" x2="247.8" y2="243.9" stroke="#e6e6e6" stroke-width="0.8"/>
<line x1="108.3" y1="191.6" x2="108.3" y2="243.9" stroke="#a8a8a8" stroke-width="0.9"/>
<line x1="108.3" y1="243.9" x2="247.8" y2="243.9" stroke="#a6a6a6" stroke-width="1"/>
<text x="104.5" y="243.9" font-size="5.8" text-anchor="end" font-weight="normal" fill="#2a2a2a" stroke="#2a2a2a" stroke-width="0.18" dominant-baseline="central">0</text>
<text x="104.5" y="233.44" font-size="5.8" text-anchor="end" font-weight="normal" fill="#2a2a2a" stroke="#2a2a2a" stroke-width="0.18" dominant-baseline="central">0,002</text>
<text x="104.5" y="222.98" font-size="5.8" text-anchor="end" font-weight="normal" fill="#2a2a2a" stroke="#2a2a2a" stroke-width="0.18" dominant-baseline="central">0,004</text>
<text x="104.5" y="212.52" font-size="5.8" text-anchor="end" font-weight="normal" fill="#2a2a2a" stroke="#2a2a2a" stroke-width="0.18" dominant-baseline="central">0,006</text>
<text x="104.5" y="202.06" font-size="5.8" text-anchor="end" font-weight="normal" fill="#2a2a2a" stroke="#2a2a2a" stroke-width="0.18" dominant-baseline="central">0,008</text>
<text x="104.5" y="191.6" font-size="5.8" text-anchor="end" font-weight="normal" fill="#2a2a2a" stroke="#2a2a2a" stroke-width="0.18" dominant-baseline="central">0,01</text>
<text x="107.3" y="250" font-size="5.8" text-anchor="middle" font-weight="normal" fill="#2a2a2a" stroke="#2a2a2a" stroke-width="0.18" dominant-baseline="central">100</text>
<text x="153.2" y="250" font-size="5.8" text-anchor="middle" font-weight="normal" fill="#2a2a2a" stroke="#2a2a2a" stroke-width="0.18" dominant-baseline="central">1000</text>
<text x="201" y="250" font-size="5.8" text-anchor="middle" font-weight="normal" fill="#2a2a2a" stroke="#2a2a2a" stroke-width="0.18" dominant-baseline="central">10,000</text>
<text x="247.9" y="250" font-size="5.8" text-anchor="middle" font-weight="normal" fill="#2a2a2a" stroke="#2a2a2a" stroke-width="0.18" dominant-baseline="central">100,000</text>
<text x="178.6" y="258.6" font-size="6.4" text-anchor="middle" font-weight="bold" fill="#000" stroke="#000" stroke-width="0.08" dominant-baseline="central">Shear rate (s<tspan font-size="3.97" dy="-1.6">&#8722;1</tspan><tspan dy="1.6">)</tspan></text>
<text x="84.2" y="218.2" font-size="6.4" text-anchor="middle" font-weight="bold" fill="#000" stroke="#000" stroke-width="0.08" dominant-baseline="central" transform="rotate(-90 84.2 218.2)">Viscosity (Pa&#183;s)</text>
<line x1="108.2" y1="227.1" x2="108.2" y2="233.5" stroke="#5a5a5a" stroke-width="0.55"/>
<line x1="107.3" y1="227.1" x2="109.1" y2="227.1" stroke="#5a5a5a" stroke-width="0.55"/>
<line x1="107.3" y1="233.5" x2="109.1" y2="233.5" stroke="#5a5a5a" stroke-width="0.55"/>
<line x1="112.85" y1="227.4" x2="112.85" y2="233.8" stroke="#5a5a5a" stroke-width="0.55"/>
<line x1="111.95" y1="227.4" x2="113.75" y2="227.4" stroke="#5a5a5a" stroke-width="0.55"/>
<line x1="111.95" y1="233.8" x2="113.75" y2="233.8" stroke="#5a5a5a" stroke-width="0.55"/>
<line x1="117.5" y1="227.7" x2="117.5" y2="234.1" stroke="#5a5a5a" stroke-width="0.55"/>
<line x1="116.6" y1="227.7" x2="118.4" y2="227.7" stroke="#5a5a5a" stroke-width="0.55"/>
<line x1="116.6" y1="234.1" x2="118.4" y2="234.1" stroke="#5a5a5a" stroke-width="0.55"/>
<line x1="122.15" y1="227.9" x2="122.15" y2="234.3" stroke="#5a5a5a" stroke-width="0.55"/>
<line x1="121.25" y1="227.9" x2="123.05" y2="227.9" stroke="#5a5a5a" stroke-width="0.55"/>
<line x1="121.25" y1="234.3" x2="123.05" y2="234.3" stroke="#5a5a5a" stroke-width="0.55"/>
<line x1="126.8" y1="228.7" x2="126.8" y2="233.9" stroke="#5a5a5a" stroke-width="0.55"/>
<line x1="125.9" y1="228.7" x2="127.7" y2="228.7" stroke="#5a5a5a" stroke-width="0.55"/>
<line x1="125.9" y1="233.9" x2="127.7" y2="233.9" stroke="#5a5a5a" stroke-width="0.55"/>
<line x1="131.45" y1="228.69" x2="131.45" y2="233.89" stroke="#5a5a5a" stroke-width="0.55"/>
<line x1="130.55" y1="228.69" x2="132.35" y2="228.69" stroke="#5a5a5a" stroke-width="0.55"/>
<line x1="130.55" y1="233.89" x2="132.35" y2="233.89" stroke="#5a5a5a" stroke-width="0.55"/>
<line x1="136.1" y1="228.67" x2="136.1" y2="233.87" stroke="#5a5a5a" stroke-width="0.55"/>
<line x1="135.2" y1="228.67" x2="137" y2="228.67" stroke="#5a5a5a" stroke-width="0.55"/>
<line x1="135.2" y1="233.87" x2="137" y2="233.87" stroke="#5a5a5a" stroke-width="0.55"/>
<line x1="140.75" y1="228.66" x2="140.75" y2="233.86" stroke="#5a5a5a" stroke-width="0.55"/>
<line x1="139.85" y1="228.66" x2="141.65" y2="228.66" stroke="#5a5a5a" stroke-width="0.55"/>
<line x1="139.85" y1="233.86" x2="141.65" y2="233.86" stroke="#5a5a5a" stroke-width="0.55"/>
<line x1="145.4" y1="228.64" x2="145.4" y2="233.84" stroke="#5a5a5a" stroke-width="0.55"/>
<line x1="144.5" y1="228.64" x2="146.3" y2="228.64" stroke="#5a5a5a" stroke-width="0.55"/>
<line x1="144.5" y1="233.84" x2="146.3" y2="233.84" stroke="#5a5a5a" stroke-width="0.55"/>
<line x1="150.05" y1="228.63" x2="150.05" y2="233.83" stroke="#5a5a5a" stroke-width="0.55"/>
<line x1="149.15" y1="228.63" x2="150.95" y2="228.63" stroke="#5a5a5a" stroke-width="0.55"/>
<line x1="149.15" y1="233.83" x2="150.95" y2="233.83" stroke="#5a5a5a" stroke-width="0.55"/>
<line x1="154.7" y1="228.62" x2="154.7" y2="233.82" stroke="#5a5a5a" stroke-width="0.55"/>
<line x1="153.8" y1="228.62" x2="155.6" y2="228.62" stroke="#5a5a5a" stroke-width="0.55"/>
<line x1="153.8" y1="233.82" x2="155.6" y2="233.82" stroke="#5a5a5a" stroke-width="0.55"/>
<line x1="159.35" y1="228.6" x2="159.35" y2="233.8" stroke="#5a5a5a" stroke-width="0.55"/>
<line x1="158.45" y1="228.6" x2="160.25" y2="228.6" stroke="#5a5a5a" stroke-width="0.55"/>
<line x1="158.45" y1="233.8" x2="160.25" y2="233.8" stroke="#5a5a5a" stroke-width="0.55"/>
<line x1="164" y1="228.47" x2="164" y2="233.67" stroke="#5a5a5a" stroke-width="0.55"/>
<line x1="163.1" y1="228.47" x2="164.9" y2="228.47" stroke="#5a5a5a" stroke-width="0.55"/>
<line x1="163.1" y1="233.67" x2="164.9" y2="233.67" stroke="#5a5a5a" stroke-width="0.55"/>
<line x1="168.65" y1="228.32" x2="168.65" y2="233.52" stroke="#5a5a5a" stroke-width="0.55"/>
<line x1="167.75" y1="228.32" x2="169.55" y2="228.32" stroke="#5a5a5a" stroke-width="0.55"/>
<line x1="167.75" y1="233.52" x2="169.55" y2="233.52" stroke="#5a5a5a" stroke-width="0.55"/>
<line x1="173.3" y1="228.12" x2="173.3" y2="233.32" stroke="#5a5a5a" stroke-width="0.55"/>
<line x1="172.4" y1="228.12" x2="174.2" y2="228.12" stroke="#5a5a5a" stroke-width="0.55"/>
<line x1="172.4" y1="233.32" x2="174.2" y2="233.32" stroke="#5a5a5a" stroke-width="0.55"/>
<line x1="177.95" y1="227.83" x2="177.95" y2="233.03" stroke="#5a5a5a" stroke-width="0.55"/>
<line x1="177.05" y1="227.83" x2="178.85" y2="227.83" stroke="#5a5a5a" stroke-width="0.55"/>
<line x1="177.05" y1="233.03" x2="178.85" y2="233.03" stroke="#5a5a5a" stroke-width="0.55"/>
<line x1="182.6" y1="227.13" x2="182.6" y2="232.33" stroke="#5a5a5a" stroke-width="0.55"/>
<line x1="181.7" y1="227.13" x2="183.5" y2="227.13" stroke="#5a5a5a" stroke-width="0.55"/>
<line x1="181.7" y1="232.33" x2="183.5" y2="232.33" stroke="#5a5a5a" stroke-width="0.55"/>
<line x1="187.25" y1="225.91" x2="187.25" y2="231.91" stroke="#5a5a5a" stroke-width="0.55"/>
<line x1="186.35" y1="225.91" x2="188.15" y2="225.91" stroke="#5a5a5a" stroke-width="0.55"/>
<line x1="186.35" y1="231.91" x2="188.15" y2="231.91" stroke="#5a5a5a" stroke-width="0.55"/>
<line x1="191.9" y1="224.82" x2="191.9" y2="230.82" stroke="#5a5a5a" stroke-width="0.55"/>
<line x1="191" y1="224.82" x2="192.8" y2="224.82" stroke="#5a5a5a" stroke-width="0.55"/>
<line x1="191" y1="230.82" x2="192.8" y2="230.82" stroke="#5a5a5a" stroke-width="0.55"/>
<path d="M108.2 230.3 L112.85 230.6 L117.5 230.9 L122.15 231.1 L126.8 231.3 L131.45 231.29 L136.1 231.27 L140.75 231.26 L145.4 231.24 L150.05 231.23 L154.7 231.22 L159.35 231.2 L164 231.07 L168.65 230.92 L173.3 230.72 L177.95 230.43 L182.6 229.73 L187.25 228.91 L191.9 227.82 L201.9 235.5" fill="none" stroke="#262626" stroke-width="0.95" stroke-linejoin="round"/>
<circle cx="108.2" cy="230.3" r="1.3" fill="#262626"/>
<circle cx="112.85" cy="230.6" r="1.3" fill="#262626"/>
<circle cx="117.5" cy="230.9" r="1.3" fill="#262626"/>
<circle cx="122.15" cy="231.1" r="1.3" fill="#262626"/>
<circle cx="126.8" cy="231.3" r="1.3" fill="#262626"/>
<circle cx="131.45" cy="231.29" r="1.3" fill="#262626"/>
<circle cx="136.1" cy="231.27" r="1.3" fill="#262626"/>
<circle cx="140.75" cy="231.26" r="1.3" fill="#262626"/>
<circle cx="145.4" cy="231.24" r="1.3" fill="#262626"/>
<circle cx="150.05" cy="231.23" r="1.3" fill="#262626"/>
<circle cx="154.7" cy="231.22" r="1.3" fill="#262626"/>
<circle cx="159.35" cy="231.2" r="1.3" fill="#262626"/>
<circle cx="164" cy="231.07" r="1.3" fill="#262626"/>
<circle cx="168.65" cy="230.92" r="1.3" fill="#262626"/>
<circle cx="173.3" cy="230.72" r="1.3" fill="#262626"/>
<circle cx="177.95" cy="230.43" r="1.3" fill="#262626"/>
<circle cx="182.6" cy="229.73" r="1.3" fill="#262626"/>
<circle cx="187.25" cy="228.91" r="1.3" fill="#262626"/>
<circle cx="191.9" cy="227.82" r="1.3" fill="#262626"/>
<circle cx="201.9" cy="235.5" r="1.3" fill="#262626"/>
<path d="M141.3 227.7 L150.87 227.36 L160.43 227.03 L170 226.7 L179.57 226.63 L189.13 226.57 L198.7 226.5 L208.27 226.43 L217.83 226.37 L227.4 226.3" fill="none" stroke="#e04848" stroke-width="1.25" stroke-linejoin="round"/>
<circle cx="141.3" cy="227.7" r="1.1" fill="#d40000"/>
<circle cx="150.87" cy="227.36" r="1.1" fill="#d40000"/>
<circle cx="160.43" cy="227.03" r="1.1" fill="#d40000"/>
<circle cx="170" cy="226.7" r="1.1" fill="#d40000"/>
<circle cx="179.57" cy="226.63" r="1.1" fill="#d40000"/>
<circle cx="189.13" cy="226.57" r="1.1" fill="#d40000"/>
<circle cx="198.7" cy="226.5" r="1.1" fill="#d40000"/>
<circle cx="208.27" cy="226.43" r="1.1" fill="#d40000"/>
<circle cx="217.83" cy="226.37" r="1.1" fill="#d40000"/>
<circle cx="227.4" cy="226.3" r="1.1" fill="#d40000"/>
<text x="37.2" y="179.8" font-size="8.6" text-anchor="middle" font-weight="bold" fill="#000" stroke="#000" stroke-width="0.08" dominant-baseline="central">C.</text>
<line x1="299.4" y1="296.44" x2="533.4" y2="296.44" stroke="#e6e6e6" stroke-width="0.8"/>
<line x1="299.4" y1="269.38" x2="533.4" y2="269.38" stroke="#e6e6e6" stroke-width="0.8"/>
<line x1="299.4" y1="242.32" x2="533.4" y2="242.32" stroke="#e6e6e6" stroke-width="0.8"/>
<line x1="299.4" y1="215.26" x2="533.4" y2="215.26" stroke="#e6e6e6" stroke-width="0.8"/>
<line x1="299.4" y1="188.2" x2="533.4" y2="188.2" stroke="#e6e6e6" stroke-width="0.8"/>
<line x1="338.4" y1="188.2" x2="338.4" y2="323.5" stroke="#e6e6e6" stroke-width="0.8"/>
<line x1="377.4" y1="188.2" x2="377.4" y2="323.5" stroke="#e6e6e6" stroke-width="0.8"/>
<line x1="416.4" y1="188.2" x2="416.4" y2="323.5" stroke="#e6e6e6" stroke-width="0.8"/>
<line x1="455.4" y1="188.2" x2="455.4" y2="323.5" stroke="#e6e6e6" stroke-width="0.8"/>
<line x1="494.4" y1="188.2" x2="494.4" y2="323.5" stroke="#e6e6e6" stroke-width="0.8"/>
<line x1="533.4" y1="188.2" x2="533.4" y2="323.5" stroke="#e6e6e6" stroke-width="0.8"/>
<line x1="299.4" y1="188.2" x2="299.4" y2="323.5" stroke="#e6e6e6" stroke-width="0.9"/>
<line x1="299.4" y1="323.5" x2="533.4" y2="323.5" stroke="#a6a6a6" stroke-width="1"/>
<text x="294.5" y="323.5" font-size="6" text-anchor="end" font-weight="normal" fill="#2a2a2a" stroke="#2a2a2a" stroke-width="0.18" dominant-baseline="central">0,00</text>
<text x="294.5" y="296.44" font-size="6" text-anchor="end" font-weight="normal" fill="#2a2a2a" stroke="#2a2a2a" stroke-width="0.18" dominant-baseline="central">0,02</text>
<text x="294.5" y="269.38" font-size="6" text-anchor="end" font-weight="normal" fill="#2a2a2a" stroke="#2a2a2a" stroke-width="0.18" dominant-baseline="central">0,04</text>
<text x="294.5" y="242.32" font-size="6" text-anchor="end" font-weight="normal" fill="#2a2a2a" stroke="#2a2a2a" stroke-width="0.18" dominant-baseline="central">0,06</text>
<text x="294.5" y="215.26" font-size="6" text-anchor="end" font-weight="normal" fill="#2a2a2a" stroke="#2a2a2a" stroke-width="0.18" dominant-baseline="central">0,08</text>
<text x="294.5" y="188.2" font-size="6" text-anchor="end" font-weight="normal" fill="#2a2a2a" stroke="#2a2a2a" stroke-width="0.18" dominant-baseline="central">0,10</text>
<text x="301" y="330.5" font-size="6" text-anchor="middle" font-weight="normal" fill="#2a2a2a" stroke="#2a2a2a" stroke-width="0.18" dominant-baseline="central">0.1</text>
<text x="339.8" y="330.5" font-size="6" text-anchor="middle" font-weight="normal" fill="#2a2a2a" stroke="#2a2a2a" stroke-width="0.18" dominant-baseline="central">1</text>
<text x="378" y="330.5" font-size="6" text-anchor="middle" font-weight="normal" fill="#2a2a2a" stroke="#2a2a2a" stroke-width="0.18" dominant-baseline="central">10</text>
<text x="416" y="330.5" font-size="6" text-anchor="middle" font-weight="normal" fill="#2a2a2a" stroke="#2a2a2a" stroke-width="0.18" dominant-baseline="central">100</text>
<text x="454" y="330.5" font-size="6" text-anchor="middle" font-weight="normal" fill="#2a2a2a" stroke="#2a2a2a" stroke-width="0.18" dominant-baseline="central">1000</text>
<text x="491.6" y="330.5" font-size="6" text-anchor="middle" font-weight="normal" fill="#2a2a2a" stroke="#2a2a2a" stroke-width="0.18" dominant-baseline="central">10,000</text>
<text x="531" y="330.5" font-size="6" text-anchor="middle" font-weight="normal" fill="#2a2a2a" stroke="#2a2a2a" stroke-width="0.18" dominant-baseline="central">100,000</text>
<text x="416.4" y="338.2" font-size="6.4" text-anchor="middle" font-weight="bold" fill="#000" stroke="#000" stroke-width="0.08" dominant-baseline="central">Shear rate (s<tspan font-size="3.97" dy="-1.6">&#8722;1</tspan><tspan dy="1.6">)</tspan></text>
<text x="278.1" y="256.2" font-size="6.4" text-anchor="middle" font-weight="bold" fill="#000" stroke="#000" stroke-width="0.08" dominant-baseline="central" transform="rotate(-90 278.1 256.2)">Viscosity (Pa&#183;s)</text>
<line x1="338.3" y1="301.4" x2="338.3" y2="313.6" stroke="#5a5a5a" stroke-width="0.55"/>
<line x1="337.4" y1="301.4" x2="339.2" y2="301.4" stroke="#5a5a5a" stroke-width="0.55"/>
<line x1="337.4" y1="313.6" x2="339.2" y2="313.6" stroke="#5a5a5a" stroke-width="0.55"/>
<line x1="342.2" y1="300" x2="342.2" y2="315.3" stroke="#5a5a5a" stroke-width="0.55"/>
<line x1="341.3" y1="300" x2="343.1" y2="300" stroke="#5a5a5a" stroke-width="0.55"/>
<line x1="341.3" y1="315.3" x2="343.1" y2="315.3" stroke="#5a5a5a" stroke-width="0.55"/>
<line x1="346.1" y1="305.5" x2="346.1" y2="311.2" stroke="#5a5a5a" stroke-width="0.55"/>
<line x1="345.2" y1="305.5" x2="347" y2="305.5" stroke="#5a5a5a" stroke-width="0.55"/>
<line x1="345.2" y1="311.2" x2="347" y2="311.2" stroke="#5a5a5a" stroke-width="0.55"/>
<line x1="350" y1="304.3" x2="350" y2="314.5" stroke="#5a5a5a" stroke-width="0.55"/>
<line x1="349.1" y1="304.3" x2="350.9" y2="304.3" stroke="#5a5a5a" stroke-width="0.55"/>
<line x1="349.1" y1="314.5" x2="350.9" y2="314.5" stroke="#5a5a5a" stroke-width="0.55"/>
<line x1="353.9" y1="304.3" x2="353.9" y2="312" stroke="#5a5a5a" stroke-width="0.55"/>
<line x1="353" y1="304.3" x2="354.8" y2="304.3" stroke="#5a5a5a" stroke-width="0.55"/>
<line x1="353" y1="312" x2="354.8" y2="312" stroke="#5a5a5a" stroke-width="0.55"/>
<line x1="357.8" y1="305.5" x2="357.8" y2="312" stroke="#5a5a5a" stroke-width="0.55"/>
<line x1="356.9" y1="305.5" x2="358.7" y2="305.5" stroke="#5a5a5a" stroke-width="0.55"/>
<line x1="356.9" y1="312" x2="358.7" y2="312" stroke="#5a5a5a" stroke-width="0.55"/>
<line x1="361.7" y1="307.28" x2="361.7" y2="309.88" stroke="#5a5a5a" stroke-width="0.55"/>
<line x1="360.8" y1="307.28" x2="362.6" y2="307.28" stroke="#5a5a5a" stroke-width="0.55"/>
<line x1="360.8" y1="309.88" x2="362.6" y2="309.88" stroke="#5a5a5a" stroke-width="0.55"/>
<line x1="365.6" y1="307.27" x2="365.6" y2="309.87" stroke="#5a5a5a" stroke-width="0.55"/>
<line x1="364.7" y1="307.27" x2="366.5" y2="307.27" stroke="#5a5a5a" stroke-width="0.55"/>
<line x1="364.7" y1="309.87" x2="366.5" y2="309.87" stroke="#5a5a5a" stroke-width="0.55"/>
<line x1="369.5" y1="307.25" x2="369.5" y2="309.85" stroke="#5a5a5a" stroke-width="0.55"/>
<line x1="368.6" y1="307.25" x2="370.4" y2="307.25" stroke="#5a5a5a" stroke-width="0.55"/>
<line x1="368.6" y1="309.85" x2="370.4" y2="309.85" stroke="#5a5a5a" stroke-width="0.55"/>
<line x1="373.4" y1="307.24" x2="373.4" y2="309.84" stroke="#5a5a5a" stroke-width="0.55"/>
<line x1="372.5" y1="307.24" x2="374.3" y2="307.24" stroke="#5a5a5a" stroke-width="0.55"/>
<line x1="372.5" y1="309.84" x2="374.3" y2="309.84" stroke="#5a5a5a" stroke-width="0.55"/>
<line x1="377.3" y1="307.22" x2="377.3" y2="309.82" stroke="#5a5a5a" stroke-width="0.55"/>
<line x1="376.4" y1="307.22" x2="378.2" y2="307.22" stroke="#5a5a5a" stroke-width="0.55"/>
<line x1="376.4" y1="309.82" x2="378.2" y2="309.82" stroke="#5a5a5a" stroke-width="0.55"/>
<line x1="381.2" y1="307.2" x2="381.2" y2="309.8" stroke="#5a5a5a" stroke-width="0.55"/>
<line x1="380.3" y1="307.2" x2="382.1" y2="307.2" stroke="#5a5a5a" stroke-width="0.55"/>
<line x1="380.3" y1="309.8" x2="382.1" y2="309.8" stroke="#5a5a5a" stroke-width="0.55"/>
<line x1="385.1" y1="307.19" x2="385.1" y2="309.79" stroke="#5a5a5a" stroke-width="0.55"/>
<line x1="384.2" y1="307.19" x2="386" y2="307.19" stroke="#5a5a5a" stroke-width="0.55"/>
<line x1="384.2" y1="309.79" x2="386" y2="309.79" stroke="#5a5a5a" stroke-width="0.55"/>
<line x1="389" y1="307.17" x2="389" y2="309.77" stroke="#5a5a5a" stroke-width="0.55"/>
<line x1="388.1" y1="307.17" x2="389.9" y2="307.17" stroke="#5a5a5a" stroke-width="0.55"/>
<line x1="388.1" y1="309.77" x2="389.9" y2="309.77" stroke="#5a5a5a" stroke-width="0.55"/>
<line x1="392.9" y1="307.16" x2="392.9" y2="309.76" stroke="#5a5a5a" stroke-width="0.55"/>
<line x1="392" y1="307.16" x2="393.8" y2="307.16" stroke="#5a5a5a" stroke-width="0.55"/>
<line x1="392" y1="309.76" x2="393.8" y2="309.76" stroke="#5a5a5a" stroke-width="0.55"/>
<line x1="396.8" y1="307.14" x2="396.8" y2="309.74" stroke="#5a5a5a" stroke-width="0.55"/>
<line x1="395.9" y1="307.14" x2="397.7" y2="307.14" stroke="#5a5a5a" stroke-width="0.55"/>
<line x1="395.9" y1="309.74" x2="397.7" y2="309.74" stroke="#5a5a5a" stroke-width="0.55"/>
<line x1="400.7" y1="307.12" x2="400.7" y2="309.72" stroke="#5a5a5a" stroke-width="0.55"/>
<line x1="399.8" y1="307.12" x2="401.6" y2="307.12" stroke="#5a5a5a" stroke-width="0.55"/>
<line x1="399.8" y1="309.72" x2="401.6" y2="309.72" stroke="#5a5a5a" stroke-width="0.55"/>
<line x1="404.6" y1="307.11" x2="404.6" y2="309.71" stroke="#5a5a5a" stroke-width="0.55"/>
<line x1="403.7" y1="307.11" x2="405.5" y2="307.11" stroke="#5a5a5a" stroke-width="0.55"/>
<line x1="403.7" y1="309.71" x2="405.5" y2="309.71" stroke="#5a5a5a" stroke-width="0.55"/>
<line x1="408.5" y1="307.09" x2="408.5" y2="309.69" stroke="#5a5a5a" stroke-width="0.55"/>
<line x1="407.6" y1="307.09" x2="409.4" y2="307.09" stroke="#5a5a5a" stroke-width="0.55"/>
<line x1="407.6" y1="309.69" x2="409.4" y2="309.69" stroke="#5a5a5a" stroke-width="0.55"/>
<line x1="412.4" y1="307.08" x2="412.4" y2="309.68" stroke="#5a5a5a" stroke-width="0.55"/>
<line x1="411.5" y1="307.08" x2="413.3" y2="307.08" stroke="#5a5a5a" stroke-width="0.55"/>
<line x1="411.5" y1="309.68" x2="413.3" y2="309.68" stroke="#5a5a5a" stroke-width="0.55"/>
<line x1="416.3" y1="307.06" x2="416.3" y2="309.66" stroke="#5a5a5a" stroke-width="0.55"/>
<line x1="415.4" y1="307.06" x2="417.2" y2="307.06" stroke="#5a5a5a" stroke-width="0.55"/>
<line x1="415.4" y1="309.66" x2="417.2" y2="309.66" stroke="#5a5a5a" stroke-width="0.55"/>
<line x1="420.2" y1="307.04" x2="420.2" y2="309.64" stroke="#5a5a5a" stroke-width="0.55"/>
<line x1="419.3" y1="307.04" x2="421.1" y2="307.04" stroke="#5a5a5a" stroke-width="0.55"/>
<line x1="419.3" y1="309.64" x2="421.1" y2="309.64" stroke="#5a5a5a" stroke-width="0.55"/>
<line x1="424.1" y1="307.03" x2="424.1" y2="309.63" stroke="#5a5a5a" stroke-width="0.55"/>
<line x1="423.2" y1="307.03" x2="425" y2="307.03" stroke="#5a5a5a" stroke-width="0.55"/>
<line x1="423.2" y1="309.63" x2="425" y2="309.63" stroke="#5a5a5a" stroke-width="0.55"/>
<line x1="428" y1="307.01" x2="428" y2="309.61" stroke="#5a5a5a" stroke-width="0.55"/>
<line x1="427.1" y1="307.01" x2="428.9" y2="307.01" stroke="#5a5a5a" stroke-width="0.55"/>
<line x1="427.1" y1="309.61" x2="428.9" y2="309.61" stroke="#5a5a5a" stroke-width="0.55"/>
<line x1="431.9" y1="307.04" x2="431.9" y2="309.64" stroke="#5a5a5a" stroke-width="0.55"/>
<line x1="431" y1="307.04" x2="432.8" y2="307.04" stroke="#5a5a5a" stroke-width="0.55"/>
<line x1="431" y1="309.64" x2="432.8" y2="309.64" stroke="#5a5a5a" stroke-width="0.55"/>
<line x1="435.8" y1="307.19" x2="435.8" y2="309.79" stroke="#5a5a5a" stroke-width="0.55"/>
<line x1="434.9" y1="307.19" x2="436.7" y2="307.19" stroke="#5a5a5a" stroke-width="0.55"/>
<line x1="434.9" y1="309.79" x2="436.7" y2="309.79" stroke="#5a5a5a" stroke-width="0.55"/>
<line x1="439.7" y1="307.35" x2="439.7" y2="309.95" stroke="#5a5a5a" stroke-width="0.55"/>
<line x1="438.8" y1="307.35" x2="440.6" y2="307.35" stroke="#5a5a5a" stroke-width="0.55"/>
<line x1="438.8" y1="309.95" x2="440.6" y2="309.95" stroke="#5a5a5a" stroke-width="0.55"/>
<line x1="443.6" y1="307.5" x2="443.6" y2="310.1" stroke="#5a5a5a" stroke-width="0.55"/>
<line x1="442.7" y1="307.5" x2="444.5" y2="307.5" stroke="#5a5a5a" stroke-width="0.55"/>
<line x1="442.7" y1="310.1" x2="444.5" y2="310.1" stroke="#5a5a5a" stroke-width="0.55"/>
<line x1="447.5" y1="307.65" x2="447.5" y2="310.25" stroke="#5a5a5a" stroke-width="0.55"/>
<line x1="446.6" y1="307.65" x2="448.4" y2="307.65" stroke="#5a5a5a" stroke-width="0.55"/>
<line x1="446.6" y1="310.25" x2="448.4" y2="310.25" stroke="#5a5a5a" stroke-width="0.55"/>
<line x1="451.4" y1="307.9" x2="451.4" y2="310.5" stroke="#5a5a5a" stroke-width="0.55"/>
<line x1="450.5" y1="307.9" x2="452.3" y2="307.9" stroke="#5a5a5a" stroke-width="0.55"/>
<line x1="450.5" y1="310.5" x2="452.3" y2="310.5" stroke="#5a5a5a" stroke-width="0.55"/>
<line x1="455.3" y1="308.19" x2="455.3" y2="310.79" stroke="#5a5a5a" stroke-width="0.55"/>
<line x1="454.4" y1="308.19" x2="456.2" y2="308.19" stroke="#5a5a5a" stroke-width="0.55"/>
<line x1="454.4" y1="310.79" x2="456.2" y2="310.79" stroke="#5a5a5a" stroke-width="0.55"/>
<line x1="459.2" y1="312.81" x2="459.2" y2="315.41" stroke="#5a5a5a" stroke-width="0.55"/>
<line x1="458.3" y1="312.81" x2="460.1" y2="312.81" stroke="#5a5a5a" stroke-width="0.55"/>
<line x1="458.3" y1="315.41" x2="460.1" y2="315.41" stroke="#5a5a5a" stroke-width="0.55"/>
<line x1="463.1" y1="313.04" x2="463.1" y2="315.64" stroke="#5a5a5a" stroke-width="0.55"/>
<line x1="462.2" y1="313.04" x2="464" y2="313.04" stroke="#5a5a5a" stroke-width="0.55"/>
<line x1="462.2" y1="315.64" x2="464" y2="315.64" stroke="#5a5a5a" stroke-width="0.55"/>
<line x1="467" y1="313.28" x2="467" y2="315.88" stroke="#5a5a5a" stroke-width="0.55"/>
<line x1="466.1" y1="313.28" x2="467.9" y2="313.28" stroke="#5a5a5a" stroke-width="0.55"/>
<line x1="466.1" y1="315.88" x2="467.9" y2="315.88" stroke="#5a5a5a" stroke-width="0.55"/>
<line x1="470.9" y1="313.59" x2="470.9" y2="316.19" stroke="#5a5a5a" stroke-width="0.55"/>
<line x1="470" y1="313.59" x2="471.8" y2="313.59" stroke="#5a5a5a" stroke-width="0.55"/>
<line x1="470" y1="316.19" x2="471.8" y2="316.19" stroke="#5a5a5a" stroke-width="0.55"/>
<line x1="474.8" y1="313.91" x2="474.8" y2="316.51" stroke="#5a5a5a" stroke-width="0.55"/>
<line x1="473.9" y1="313.91" x2="475.7" y2="313.91" stroke="#5a5a5a" stroke-width="0.55"/>
<line x1="473.9" y1="316.51" x2="475.7" y2="316.51" stroke="#5a5a5a" stroke-width="0.55"/>
<line x1="478.7" y1="314.23" x2="478.7" y2="316.83" stroke="#5a5a5a" stroke-width="0.55"/>
<line x1="477.8" y1="314.23" x2="479.6" y2="314.23" stroke="#5a5a5a" stroke-width="0.55"/>
<line x1="477.8" y1="316.83" x2="479.6" y2="316.83" stroke="#5a5a5a" stroke-width="0.55"/>
<line x1="482.6" y1="314.54" x2="482.6" y2="317.14" stroke="#5a5a5a" stroke-width="0.55"/>
<line x1="481.7" y1="314.54" x2="483.5" y2="314.54" stroke="#5a5a5a" stroke-width="0.55"/>
<line x1="481.7" y1="317.14" x2="483.5" y2="317.14" stroke="#5a5a5a" stroke-width="0.55"/>
<line x1="486.5" y1="316.52" x2="486.5" y2="319.12" stroke="#5a5a5a" stroke-width="0.55"/>
<line x1="485.6" y1="316.52" x2="487.4" y2="316.52" stroke="#5a5a5a" stroke-width="0.55"/>
<line x1="485.6" y1="319.12" x2="487.4" y2="319.12" stroke="#5a5a5a" stroke-width="0.55"/>
<line x1="490.4" y1="319.4" x2="490.4" y2="322" stroke="#5a5a5a" stroke-width="0.55"/>
<line x1="489.5" y1="319.4" x2="491.3" y2="319.4" stroke="#5a5a5a" stroke-width="0.55"/>
<line x1="489.5" y1="322" x2="491.3" y2="322" stroke="#5a5a5a" stroke-width="0.55"/>
<line x1="494.3" y1="320.85" x2="494.3" y2="323.45" stroke="#5a5a5a" stroke-width="0.55"/>
<line x1="493.4" y1="320.85" x2="495.2" y2="320.85" stroke="#5a5a5a" stroke-width="0.55"/>
<line x1="493.4" y1="323.45" x2="495.2" y2="323.45" stroke="#5a5a5a" stroke-width="0.55"/>
<path d="M299.3 247.2 L303.2 269.6 L307.1 281.6 L311 286.4 L314.9 290.1 L318.8 294.2 L322.7 297.9 L326.6 304.5 L330.5 309.5 L334.4 308.8 L338.3 307.8 L342.2 308.2 L346.1 308 L350 310.4 L353.9 308.4 L357.8 308.6 L361.7 308.58 L365.6 308.57 L369.5 308.55 L373.4 308.54 L377.3 308.52 L381.2 308.5 L385.1 308.49 L389 308.47 L392.9 308.46 L396.8 308.44 L400.7 308.42 L404.6 308.41 L408.5 308.39 L412.4 308.38 L416.3 308.36 L420.2 308.34 L424.1 308.33 L428 308.31 L431.9 308.34 L435.8 308.49 L439.7 308.65 L443.6 308.8 L447.5 308.95 L451.4 309.2 L455.3 309.49 L459.2 314.11 L463.1 314.34 L467 314.58 L470.9 314.89 L474.8 315.21 L478.7 315.53 L482.6 315.84 L486.5 317.82 L490.4 320.7 L494.3 322.15" fill="none" stroke="#262626" stroke-width="0.95" stroke-linejoin="round"/>
<circle cx="299.3" cy="247.2" r="1.3" fill="#262626"/>
<circle cx="303.2" cy="269.6" r="1.3" fill="#262626"/>
<circle cx="307.1" cy="281.6" r="1.3" fill="#262626"/>
<circle cx="311" cy="286.4" r="1.3" fill="#262626"/>
<circle cx="314.9" cy="290.1" r="1.3" fill="#262626"/>
<circle cx="318.8" cy="294.2" r="1.3" fill="#262626"/>
<circle cx="322.7" cy="297.9" r="1.3" fill="#262626"/>
<circle cx="326.6" cy="304.5" r="1.3" fill="#262626"/>
<circle cx="330.5" cy="309.5" r="1.3" fill="#262626"/>
<circle cx="334.4" cy="308.8" r="1.3" fill="#262626"/>
<circle cx="338.3" cy="307.8" r="1.3" fill="#262626"/>
<circle cx="342.2" cy="308.2" r="1.3" fill="#262626"/>
<circle cx="346.1" cy="308" r="1.3" fill="#262626"/>
<circle cx="350" cy="310.4" r="1.3" fill="#262626"/>
<circle cx="353.9" cy="308.4" r="1.3" fill="#262626"/>
<circle cx="357.8" cy="308.6" r="1.3" fill="#262626"/>
<circle cx="361.7" cy="308.58" r="1.3" fill="#262626"/>
<circle cx="365.6" cy="308.57" r="1.3" fill="#262626"/>
<circle cx="369.5" cy="308.55" r="1.3" fill="#262626"/>
<circle cx="373.4" cy="308.54" r="1.3" fill="#262626"/>
<circle cx="377.3" cy="308.52" r="1.3" fill="#262626"/>
<circle cx="381.2" cy="308.5" r="1.3" fill="#262626"/>
<circle cx="385.1" cy="308.49" r="1.3" fill="#262626"/>
<circle cx="389" cy="308.47" r="1.3" fill="#262626"/>
<circle cx="392.9" cy="308.46" r="1.3" fill="#262626"/>
<circle cx="396.8" cy="308.44" r="1.3" fill="#262626"/>
<circle cx="400.7" cy="308.42" r="1.3" fill="#262626"/>
<circle cx="404.6" cy="308.41" r="1.3" fill="#262626"/>
<circle cx="408.5" cy="308.39" r="1.3" fill="#262626"/>
<circle cx="412.4" cy="308.38" r="1.3" fill="#262626"/>
<circle cx="416.3" cy="308.36" r="1.3" fill="#262626"/>
<circle cx="420.2" cy="308.34" r="1.3" fill="#262626"/>
<circle cx="424.1" cy="308.33" r="1.3" fill="#262626"/>
<circle cx="428" cy="308.31" r="1.3" fill="#262626"/>
<circle cx="431.9" cy="308.34" r="1.3" fill="#262626"/>
<circle cx="435.8" cy="308.49" r="1.3" fill="#262626"/>
<circle cx="439.7" cy="308.65" r="1.3" fill="#262626"/>
<circle cx="443.6" cy="308.8" r="1.3" fill="#262626"/>
<circle cx="447.5" cy="308.95" r="1.3" fill="#262626"/>
<circle cx="451.4" cy="309.2" r="1.3" fill="#262626"/>
<circle cx="455.3" cy="309.49" r="1.3" fill="#262626"/>
<circle cx="459.2" cy="314.11" r="1.3" fill="#262626"/>
<circle cx="463.1" cy="314.34" r="1.3" fill="#262626"/>
<circle cx="467" cy="314.58" r="1.3" fill="#262626"/>
<circle cx="470.9" cy="314.89" r="1.3" fill="#262626"/>
<circle cx="474.8" cy="315.21" r="1.3" fill="#262626"/>
<circle cx="478.7" cy="315.53" r="1.3" fill="#262626"/>
<circle cx="482.6" cy="315.84" r="1.3" fill="#262626"/>
<circle cx="486.5" cy="317.82" r="1.3" fill="#262626"/>
<circle cx="490.4" cy="320.7" r="1.3" fill="#262626"/>
<circle cx="494.3" cy="322.15" r="1.3" fill="#262626"/>
<path d="M442.4 311.4 L451.22 312.2 L460.04 313 L468.87 313.8 L477.69 314.6 L486.51 315.4 L495.33 316.2 L504.16 317 L512.98 317.8 L521.8 318.6" fill="none" stroke="#e04848" stroke-width="1.25" stroke-linejoin="round"/>
<circle cx="442.4" cy="311.4" r="1.1" fill="#d40000"/>
<circle cx="451.22" cy="312.2" r="1.1" fill="#d40000"/>
<circle cx="460.04" cy="313" r="1.1" fill="#d40000"/>
<circle cx="468.87" cy="313.8" r="1.1" fill="#d40000"/>
<circle cx="477.69" cy="314.6" r="1.1" fill="#d40000"/>
<circle cx="486.51" cy="315.4" r="1.1" fill="#d40000"/>
<circle cx="495.33" cy="316.2" r="1.1" fill="#d40000"/>
<circle cx="504.16" cy="317" r="1.1" fill="#d40000"/>
<circle cx="512.98" cy="317.8" r="1.1" fill="#d40000"/>
<circle cx="521.8" cy="318.6" r="1.1" fill="#d40000"/>
<rect x="342" y="180" width="208" height="90.5" fill="#fff"/>
<line x1="372.7" y1="235.62" x2="530.5" y2="235.62" stroke="#e6e6e6" stroke-width="0.8"/>
<line x1="372.7" y1="223.64" x2="530.5" y2="223.64" stroke="#e6e6e6" stroke-width="0.8"/>
<line x1="372.7" y1="211.66" x2="530.5" y2="211.66" stroke="#e6e6e6" stroke-width="0.8"/>
<line x1="372.7" y1="199.68" x2="530.5" y2="199.68" stroke="#e6e6e6" stroke-width="0.8"/>
<line x1="372.7" y1="187.7" x2="530.5" y2="187.7" stroke="#e6e6e6" stroke-width="0.8"/>
<line x1="425.3" y1="187.7" x2="425.3" y2="247.6" stroke="#e6e6e6" stroke-width="0.8"/>
<line x1="477.9" y1="187.7" x2="477.9" y2="247.6" stroke="#e6e6e6" stroke-width="0.8"/>
<line x1="530.5" y1="187.7" x2="530.5" y2="247.6" stroke="#e6e6e6" stroke-width="0.8"/>
<line x1="372.7" y1="187.7" x2="372.7" y2="247.6" stroke="#a8a8a8" stroke-width="0.9"/>
<line x1="372.7" y1="247.6" x2="530.5" y2="247.6" stroke="#a6a6a6" stroke-width="1"/>
<text x="368.4" y="247.6" font-size="5.8" text-anchor="end" font-weight="normal" fill="#2a2a2a" stroke="#2a2a2a" stroke-width="0.18" dominant-baseline="central">0,000</text>
<text x="368.4" y="235.62" font-size="5.8" text-anchor="end" font-weight="normal" fill="#2a2a2a" stroke="#2a2a2a" stroke-width="0.18" dominant-baseline="central">0,003</text>
<text x="368.4" y="223.64" font-size="5.8" text-anchor="end" font-weight="normal" fill="#2a2a2a" stroke="#2a2a2a" stroke-width="0.18" dominant-baseline="central">0,006</text>
<text x="368.4" y="211.66" font-size="5.8" text-anchor="end" font-weight="normal" fill="#2a2a2a" stroke="#2a2a2a" stroke-width="0.18" dominant-baseline="central">0,009</text>
<text x="368.4" y="199.68" font-size="5.8" text-anchor="end" font-weight="normal" fill="#2a2a2a" stroke="#2a2a2a" stroke-width="0.18" dominant-baseline="central">0,012</text>
<text x="368.4" y="187.7" font-size="5.8" text-anchor="end" font-weight="normal" fill="#2a2a2a" stroke="#2a2a2a" stroke-width="0.18" dominant-baseline="central">0,015</text>
<text x="370.5" y="255" font-size="6.3" text-anchor="middle" font-weight="normal" fill="#2a2a2a" stroke="#2a2a2a" stroke-width="0.18" dominant-baseline="central">100</text>
<text x="426" y="255" font-size="6.3" text-anchor="middle" font-weight="normal" fill="#2a2a2a" stroke="#2a2a2a" stroke-width="0.18" dominant-baseline="central">1000</text>
<text x="479.5" y="255" font-size="6.3" text-anchor="middle" font-weight="normal" fill="#2a2a2a" stroke="#2a2a2a" stroke-width="0.18" dominant-baseline="central">10,000</text>
<text x="534.4" y="255" font-size="6.3" text-anchor="middle" font-weight="normal" fill="#2a2a2a" stroke="#2a2a2a" stroke-width="0.18" dominant-baseline="central">100,000</text>
<text x="451.6" y="262" font-size="6.4" text-anchor="middle" font-weight="bold" fill="#000" stroke="#000" stroke-width="0.08" dominant-baseline="central">Shear rate (s<tspan font-size="3.97" dy="-1.6">&#8722;1</tspan><tspan dy="1.6">)</tspan></text>
<text x="348.9" y="217.9" font-size="6.4" text-anchor="middle" font-weight="bold" fill="#000" stroke="#000" stroke-width="0.08" dominant-baseline="central" transform="rotate(-90 348.9 217.9)">Viscosity (Pa&#183;s)</text>
<line x1="430.66" y1="219.51" x2="430.66" y2="223.11" stroke="#5a5a5a" stroke-width="0.55"/>
<line x1="429.76" y1="219.51" x2="431.56" y2="219.51" stroke="#5a5a5a" stroke-width="0.55"/>
<line x1="429.76" y1="223.11" x2="431.56" y2="223.11" stroke="#5a5a5a" stroke-width="0.55"/>
<line x1="435.92" y1="220.04" x2="435.92" y2="223.64" stroke="#5a5a5a" stroke-width="0.55"/>
<line x1="435.02" y1="220.04" x2="436.82" y2="220.04" stroke="#5a5a5a" stroke-width="0.55"/>
<line x1="435.02" y1="223.64" x2="436.82" y2="223.64" stroke="#5a5a5a" stroke-width="0.55"/>
<line x1="441.18" y1="220.86" x2="441.18" y2="224.46" stroke="#5a5a5a" stroke-width="0.55"/>
<line x1="440.28" y1="220.86" x2="442.08" y2="220.86" stroke="#5a5a5a" stroke-width="0.55"/>
<line x1="440.28" y1="224.46" x2="442.08" y2="224.46" stroke="#5a5a5a" stroke-width="0.55"/>
<line x1="446.44" y1="221.39" x2="446.44" y2="224.99" stroke="#5a5a5a" stroke-width="0.55"/>
<line x1="445.54" y1="221.39" x2="447.34" y2="221.39" stroke="#5a5a5a" stroke-width="0.55"/>
<line x1="445.54" y1="224.99" x2="447.34" y2="224.99" stroke="#5a5a5a" stroke-width="0.55"/>
<line x1="451.7" y1="222.04" x2="451.7" y2="225.64" stroke="#5a5a5a" stroke-width="0.55"/>
<line x1="450.8" y1="222.04" x2="452.6" y2="222.04" stroke="#5a5a5a" stroke-width="0.55"/>
<line x1="450.8" y1="225.64" x2="452.6" y2="225.64" stroke="#5a5a5a" stroke-width="0.55"/>
<line x1="456.96" y1="222.35" x2="456.96" y2="225.95" stroke="#5a5a5a" stroke-width="0.55"/>
<line x1="456.06" y1="222.35" x2="457.86" y2="222.35" stroke="#5a5a5a" stroke-width="0.55"/>
<line x1="456.06" y1="225.95" x2="457.86" y2="225.95" stroke="#5a5a5a" stroke-width="0.55"/>
<line x1="462.22" y1="223.36" x2="462.22" y2="226.96" stroke="#5a5a5a" stroke-width="0.55"/>
<line x1="461.32" y1="223.36" x2="463.12" y2="223.36" stroke="#5a5a5a" stroke-width="0.55"/>
<line x1="461.32" y1="226.96" x2="463.12" y2="226.96" stroke="#5a5a5a" stroke-width="0.55"/>
<path d="M372.8 203.3 L378.06 203.3 L383.32 203.3 L388.58 203.3 L393.84 203.3 L399.1 203.3 L404.36 203.79 L409.62 204.39 L414.88 205.1 L420.14 205.72 L425.4 206.95 L430.66 221.31 L435.92 221.84 L441.18 222.66 L446.44 223.19 L451.7 223.84 L456.96 224.15 L462.22 225.16 L467.48 230.03 L472.74 238.98 L478 241.4" fill="none" stroke="#262626" stroke-width="0.95" stroke-linejoin="round"/>
<circle cx="372.8" cy="203.3" r="1.3" fill="#262626"/>
<circle cx="378.06" cy="203.3" r="1.3" fill="#262626"/>
<circle cx="383.32" cy="203.3" r="1.3" fill="#262626"/>
<circle cx="388.58" cy="203.3" r="1.3" fill="#262626"/>
<circle cx="393.84" cy="203.3" r="1.3" fill="#262626"/>
<circle cx="399.1" cy="203.3" r="1.3" fill="#262626"/>
<circle cx="404.36" cy="203.79" r="1.3" fill="#262626"/>
<circle cx="409.62" cy="204.39" r="1.3" fill="#262626"/>
<circle cx="414.88" cy="205.1" r="1.3" fill="#262626"/>
<circle cx="420.14" cy="205.72" r="1.3" fill="#262626"/>
<circle cx="425.4" cy="206.95" r="1.3" fill="#262626"/>
<circle cx="430.66" cy="221.31" r="1.3" fill="#262626"/>
<circle cx="435.92" cy="221.84" r="1.3" fill="#262626"/>
<circle cx="441.18" cy="222.66" r="1.3" fill="#262626"/>
<circle cx="446.44" cy="223.19" r="1.3" fill="#262626"/>
<circle cx="451.7" cy="223.84" r="1.3" fill="#262626"/>
<circle cx="456.96" cy="224.15" r="1.3" fill="#262626"/>
<circle cx="462.22" cy="225.16" r="1.3" fill="#262626"/>
<circle cx="467.48" cy="230.03" r="1.3" fill="#262626"/>
<circle cx="472.74" cy="238.98" r="1.3" fill="#262626"/>
<circle cx="478" cy="241.4" r="1.3" fill="#262626"/>
<path d="M407.7 211.3 L421.6 213.83 L432.9 216.18 L444.5 218.64 L456.1 221.1 L467.7 223.56 L479.3 226.02 L490.9 228.48 L502.5 230.94 L514.1 233.4" fill="none" stroke="#e04848" stroke-width="1.25" stroke-linejoin="round"/>
<circle cx="407.7" cy="211.3" r="1.1" fill="#d40000"/>
<circle cx="421.6" cy="213.83" r="1.1" fill="#d40000"/>
<circle cx="432.9" cy="216.18" r="1.1" fill="#d40000"/>
<circle cx="444.5" cy="218.64" r="1.1" fill="#d40000"/>
<circle cx="456.1" cy="221.1" r="1.1" fill="#d40000"/>
<circle cx="467.7" cy="223.56" r="1.1" fill="#d40000"/>
<circle cx="479.3" cy="226.02" r="1.1" fill="#d40000"/>
<circle cx="490.9" cy="228.48" r="1.1" fill="#d40000"/>
<circle cx="502.5" cy="230.94" r="1.1" fill="#d40000"/>
<circle cx="514.1" cy="233.4" r="1.1" fill="#d40000"/>
<text x="308.2" y="177.8" font-size="8.6" text-anchor="middle" font-weight="bold" fill="#000" stroke="#000" stroke-width="0.08" dominant-baseline="central">D.</text>
</g>
</svg></body></html>
